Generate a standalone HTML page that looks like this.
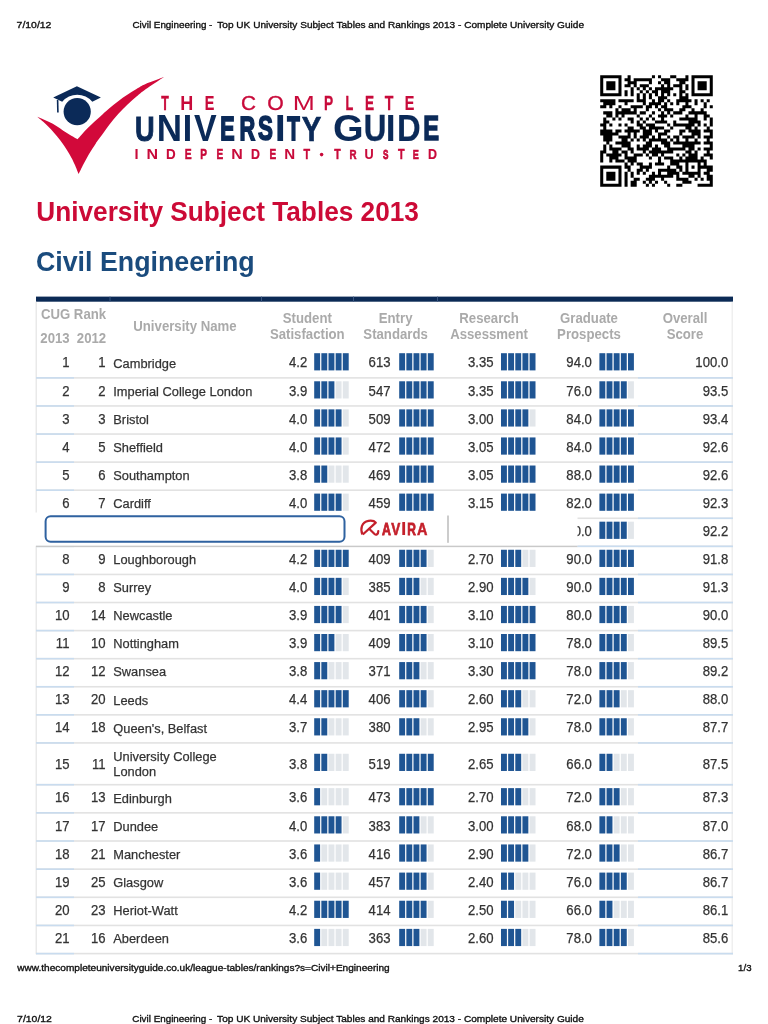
<!DOCTYPE html>
<html><head><meta charset="utf-8"><title>Civil Engineering - Top UK University Subject Tables and Rankings 2013 - Complete University Guide</title>
<style>
html,body{margin:0;padding:0;background:#fff;}
body{width:768px;height:1024px;overflow:hidden;position:relative;}
#wrap{position:absolute;left:0;top:0;width:768px;height:1024px;}
svg{position:absolute;left:0;top:0;font-family:"Liberation Sans", Arial, sans-serif;will-change:transform;}
</style></head><body>
<div id="wrap"><svg width="768" height="1024" viewBox="0 0 768 1024">
<text x="16.6" y="27.5" font-size="9.5" fill="#111" stroke="#111" stroke-width="0.35" lengthAdjust="spacingAndGlyphs" textLength="34.8" text-anchor="start" xml:space="preserve">7/10/12</text>
<text x="132.5" y="27.5" font-size="9.5" fill="#111" stroke="#111" stroke-width="0.35" lengthAdjust="spacingAndGlyphs" textLength="79.9" text-anchor="start" xml:space="preserve">Civil Engineering -</text>
<text x="217.3" y="27.5" font-size="9.5" fill="#111" stroke="#111" stroke-width="0.35" lengthAdjust="spacingAndGlyphs" textLength="366.7" text-anchor="start" xml:space="preserve">Top UK University Subject Tables and Rankings 2013 - Complete University Guide</text>
<text x="17.2" y="970.6" font-size="9.5" fill="#111" stroke="#111" stroke-width="0.35" lengthAdjust="spacingAndGlyphs" textLength="372.5" text-anchor="start" xml:space="preserve">www.thecompleteuniversityguide.co.uk/league-tables/rankings?s=Civil+Engineering</text>
<text x="738.1" y="970.6" font-size="9.5" fill="#111" stroke="#111" stroke-width="0.35" lengthAdjust="spacingAndGlyphs" textLength="13.4" text-anchor="start" xml:space="preserve">1/3</text>
<text x="17.1" y="1021.6" font-size="9.5" fill="#111" stroke="#111" stroke-width="0.35" lengthAdjust="spacingAndGlyphs" textLength="34.8" text-anchor="start" xml:space="preserve">7/10/12</text>
<text x="132.3" y="1021.6" font-size="9.5" fill="#111" stroke="#111" stroke-width="0.35" lengthAdjust="spacingAndGlyphs" textLength="79.9" text-anchor="start" xml:space="preserve">Civil Engineering -</text>
<text x="217.1" y="1021.6" font-size="9.5" fill="#111" stroke="#111" stroke-width="0.35" lengthAdjust="spacingAndGlyphs" textLength="366.7" text-anchor="start" xml:space="preserve">Top UK University Subject Tables and Rankings 2013 - Complete University Guide</text>
<path d="M77.6,139.3 C79.33,137.38 84.27,131.57 88.00,127.80 C91.73,124.03 96.48,119.92 100.00,116.70 C103.52,113.48 106.07,111.08 109.10,108.50 C112.13,105.92 115.17,103.48 118.20,101.20 C121.23,98.92 124.25,96.85 127.30,94.80 C130.35,92.75 133.45,90.72 136.50,88.90 C139.55,87.08 141.02,85.88 145.60,83.90 C150.18,81.92 160.93,78.15 164.00,77.00 C160.93,79.05 150.18,86.03 145.60,89.30 C141.02,92.57 139.55,94.02 136.50,96.60 C133.45,99.18 130.35,101.92 127.30,104.80 C124.25,107.68 121.23,110.55 118.20,113.90 C115.17,117.25 112.13,120.95 109.10,124.90 C106.07,128.85 102.22,134.52 100.00,137.60 C97.78,140.68 97.67,140.60 95.80,143.40 C93.92,146.20 90.83,150.88 88.75,154.40 C86.67,157.92 84.99,161.23 83.30,164.50 C81.61,167.77 79.38,172.42 78.60,174.00 C77.95,172.42 76.27,167.87 74.70,164.50 C73.13,161.13 71.65,157.88 69.20,153.80 C66.75,149.72 63.50,144.57 60.00,140.00 C56.50,135.43 51.98,130.28 48.20,126.40 C44.42,122.52 39.12,118.32 37.30,116.70 C39.88,117.87 47.93,121.02 52.80,123.70 C57.67,126.38 62.37,130.20 66.50,132.80 C70.63,135.40 75.75,138.22 77.60,139.30Z" fill="#d2093a"/>
<circle cx="77.2" cy="111.7" r="13.6" fill="#0b2a58"/>
<path d="M76.9,86.3 L100.9,97.5 L92.3,101.8 A19.5,19.5 0 0 0 62.2,101.8 L53.2,97.5 Z" fill="#0b2a58"/>
<path d="M57.6,100 L57.9,112.5" stroke="#0b2a58" stroke-width="1.6" fill="none"/>
<text transform="translate(161.22,109.54) scale(0.617,1)" font-size="20.03" font-weight="bold" fill="#c80a3a" stroke="#c80a3a" stroke-width="0.52" stroke-linejoin="miter">T</text>
<text transform="translate(180.19,109.80) scale(0.867,1)" font-size="20.79" font-weight="bold" fill="#c80a3a">H</text>
<text transform="translate(204.75,109.69) scale(0.703,1)" font-size="20.45" font-weight="bold" fill="#c80a3a" stroke="#c80a3a" stroke-width="0.23" stroke-linejoin="miter">E</text>
<text transform="translate(240.93,109.61) scale(1.024,1)" font-size="20.24" font-weight="normal" fill="#c80a3a" stroke="#c80a3a" stroke-width="0.37" stroke-linejoin="miter">C</text>
<text transform="translate(267.26,109.64) scale(1.044,1)" font-size="20.31" font-weight="normal" fill="#c80a3a" stroke="#c80a3a" stroke-width="0.33" stroke-linejoin="miter">O</text>
<text transform="translate(292.73,109.80) scale(1.273,1)" font-size="20.79" font-weight="normal" fill="#c80a3a">M</text>
<text transform="translate(324.04,109.64) scale(0.677,1)" font-size="20.32" font-weight="bold" fill="#c80a3a" stroke="#c80a3a" stroke-width="0.32" stroke-linejoin="miter">P</text>
<text transform="translate(345.58,109.57) scale(0.633,1)" font-size="20.11" font-weight="bold" fill="#c80a3a" stroke="#c80a3a" stroke-width="0.47" stroke-linejoin="miter">L</text>
<text transform="translate(364.95,109.63) scale(0.673,1)" font-size="20.30" font-weight="bold" fill="#c80a3a" stroke="#c80a3a" stroke-width="0.33" stroke-linejoin="miter">E</text>
<text transform="translate(384.77,109.67) scale(0.694,1)" font-size="20.41" font-weight="bold" fill="#c80a3a" stroke="#c80a3a" stroke-width="0.26" stroke-linejoin="miter">T</text>
<text transform="translate(404.65,109.69) scale(0.703,1)" font-size="20.45" font-weight="bold" fill="#c80a3a" stroke="#c80a3a" stroke-width="0.23" stroke-linejoin="miter">E</text>
<text transform="translate(135.07,140.50) scale(0.771,1)" font-size="35.18" font-weight="bold" fill="#0b2a58" stroke="#0b2a58" stroke-width="0.99" stroke-linejoin="miter">U</text>
<text transform="translate(156.66,141.00) scale(0.957,1)" font-size="36.63" font-weight="bold" fill="#0b2a58">N</text>
<text transform="translate(182.83,141.00) scale(0.928,1)" font-size="36.63" font-weight="bold" fill="#0b2a58">I</text>
<text transform="translate(193.97,141.00) scale(0.928,1)" font-size="36.62" font-weight="bold" fill="#0b2a58">V</text>
<text transform="translate(220.25,140.10) scale(0.634,1)" font-size="34.02" font-weight="bold" fill="#0b2a58" stroke="#0b2a58" stroke-width="1.79" stroke-linejoin="miter">E</text>
<text transform="translate(239.42,140.12) scale(0.640,1)" font-size="34.07" font-weight="bold" fill="#0b2a58" stroke="#0b2a58" stroke-width="1.76" stroke-linejoin="miter">R</text>
<text transform="translate(257.89,140.16) scale(0.655,1)" font-size="34.20" font-weight="bold" fill="#0b2a58" stroke="#0b2a58" stroke-width="1.67" stroke-linejoin="miter">S</text>
<text transform="translate(274.85,141.00) scale(1.080,1)" font-size="36.63" font-weight="bold" fill="#0b2a58">I</text>
<text transform="translate(287.15,140.02) scale(0.605,1)" font-size="33.79" font-weight="bold" fill="#0b2a58" stroke="#0b2a58" stroke-width="1.95" stroke-linejoin="miter">T</text>
<text transform="translate(301.83,140.67) scale(0.824,1)" font-size="35.66" font-weight="bold" fill="#0b2a58" stroke="#0b2a58" stroke-width="0.67" stroke-linejoin="miter">Y</text>
<text transform="translate(333.08,141.00) scale(1.076,1)" font-size="36.63" font-weight="bold" fill="#0b2a58">G</text>
<text transform="translate(363.82,140.80) scale(0.868,1)" font-size="36.05" font-weight="bold" fill="#0b2a58" stroke="#0b2a58" stroke-width="0.39" stroke-linejoin="miter">U</text>
<text transform="translate(385.73,141.00) scale(0.967,1)" font-size="36.63" font-weight="bold" fill="#0b2a58">I</text>
<text transform="translate(396.99,140.91) scale(0.902,1)" font-size="36.37" font-weight="bold" fill="#0b2a58" stroke="#0b2a58" stroke-width="0.17" stroke-linejoin="miter">D</text>
<text transform="translate(423.25,140.26) scale(0.689,1)" font-size="34.48" font-weight="bold" fill="#0b2a58" stroke="#0b2a58" stroke-width="1.48" stroke-linejoin="miter">E</text>
<text transform="translate(134.62,159.40) scale(1.003,1)" font-size="14.54" font-weight="bold" fill="#c80a3a">I</text>
<text transform="translate(146.53,159.40) scale(1.100,1)" font-size="14.54" font-weight="bold" fill="#c80a3a">N</text>
<text transform="translate(166.04,159.37) scale(0.930,1)" font-size="14.44" font-weight="bold" fill="#c80a3a" stroke="#c80a3a" stroke-width="0.07" stroke-linejoin="miter">D</text>
<text transform="translate(184.67,159.14) scale(0.748,1)" font-size="13.79" font-weight="bold" fill="#c80a3a" stroke="#c80a3a" stroke-width="0.52" stroke-linejoin="miter">E</text>
<text transform="translate(200.35,159.13) scale(0.733,1)" font-size="13.74" font-weight="bold" fill="#c80a3a" stroke="#c80a3a" stroke-width="0.55" stroke-linejoin="miter">P</text>
<text transform="translate(216.40,159.13) scale(0.733,1)" font-size="13.74" font-weight="bold" fill="#c80a3a" stroke="#c80a3a" stroke-width="0.55" stroke-linejoin="miter">E</text>
<text transform="translate(231.33,159.40) scale(1.100,1)" font-size="14.54" font-weight="bold" fill="#c80a3a">N</text>
<text transform="translate(250.98,159.29) scale(0.869,1)" font-size="14.21" font-weight="bold" fill="#c80a3a" stroke="#c80a3a" stroke-width="0.22" stroke-linejoin="miter">D</text>
<text transform="translate(269.50,159.13) scale(0.733,1)" font-size="13.74" font-weight="bold" fill="#c80a3a" stroke="#c80a3a" stroke-width="0.55" stroke-linejoin="miter">E</text>
<text transform="translate(284.19,159.40) scale(1.042,1)" font-size="14.54" font-weight="bold" fill="#c80a3a">N</text>
<text transform="translate(303.50,159.18) scale(0.777,1)" font-size="13.89" font-weight="bold" fill="#c80a3a" stroke="#c80a3a" stroke-width="0.45" stroke-linejoin="miter">T</text>
<text transform="translate(334.32,159.16) scale(0.763,1)" font-size="13.84" font-weight="bold" fill="#c80a3a" stroke="#c80a3a" stroke-width="0.48" stroke-linejoin="miter">T</text>
<text transform="translate(349.44,159.10) scale(0.715,1)" font-size="13.68" font-weight="bold" fill="#c80a3a" stroke="#c80a3a" stroke-width="0.59" stroke-linejoin="miter">R</text>
<text transform="translate(364.52,159.31) scale(0.888,1)" font-size="14.28" font-weight="bold" fill="#c80a3a" stroke="#c80a3a" stroke-width="0.17" stroke-linejoin="miter">U</text>
<text transform="translate(383.08,158.99) scale(0.610,1)" font-size="13.33" font-weight="bold" fill="#c80a3a" stroke="#c80a3a" stroke-width="0.83" stroke-linejoin="miter">S</text>
<text transform="translate(398.10,159.18) scale(0.777,1)" font-size="13.89" font-weight="bold" fill="#c80a3a" stroke="#c80a3a" stroke-width="0.45" stroke-linejoin="miter">T</text>
<text transform="translate(412.83,159.06) scale(0.673,1)" font-size="13.54" font-weight="bold" fill="#c80a3a" stroke="#c80a3a" stroke-width="0.69" stroke-linejoin="miter">E</text>
<text transform="translate(428.02,159.30) scale(0.876,1)" font-size="14.24" font-weight="bold" fill="#c80a3a" stroke="#c80a3a" stroke-width="0.20" stroke-linejoin="miter">D</text>
<circle cx="321.6" cy="154.6" r="1.8" fill="#c80a3a"/>
<path d="M600.20,75.20H621.50V78.21H600.20zM627.59,75.20H630.63V78.21H627.59zM651.93,75.20H654.97V78.21H651.93zM658.02,75.20H661.06V78.21H658.02zM670.19,75.20H676.28V78.21H670.19zM685.40,75.20H688.45V78.21H685.40zM691.49,75.20H712.79V78.21H691.49zM600.20,78.21H603.24V81.23H600.20zM618.46,78.21H621.50V81.23H618.46zM624.54,78.21H630.63V81.23H624.54zM633.67,78.21H651.93V81.23H633.67zM661.06,78.21H670.19V81.23H661.06zM676.28,78.21H688.45V81.23H676.28zM691.49,78.21H694.53V81.23H691.49zM709.75,78.21H712.79V81.23H709.75zM600.20,81.23H603.24V84.24H600.20zM606.29,81.23H615.42V84.24H606.29zM618.46,81.23H621.50V84.24H618.46zM627.59,81.23H636.72V84.24H627.59zM648.89,81.23H651.93V84.24H648.89zM658.02,81.23H661.06V84.24H658.02zM664.10,81.23H670.19V84.24H664.10zM679.32,81.23H685.40V84.24H679.32zM691.49,81.23H694.53V84.24H691.49zM697.58,81.23H706.71V84.24H697.58zM709.75,81.23H712.79V84.24H709.75zM600.20,84.24H603.24V87.26H600.20zM606.29,84.24H615.42V87.26H606.29zM618.46,84.24H621.50V87.26H618.46zM624.54,84.24H630.63V87.26H624.54zM633.67,84.24H636.72V87.26H633.67zM639.76,84.24H648.89V87.26H639.76zM661.06,84.24H664.10V87.26H661.06zM667.15,84.24H670.19V87.26H667.15zM673.23,84.24H682.36V87.26H673.23zM685.40,84.24H688.45V87.26H685.40zM691.49,84.24H694.53V87.26H691.49zM697.58,84.24H706.71V87.26H697.58zM709.75,84.24H712.79V87.26H709.75zM600.20,87.26H603.24V90.27H600.20zM606.29,87.26H615.42V90.27H606.29zM618.46,87.26H621.50V90.27H618.46zM630.63,87.26H633.67V90.27H630.63zM636.72,87.26H639.76V90.27H636.72zM642.80,87.26H645.85V90.27H642.80zM648.89,87.26H651.93V90.27H648.89zM654.97,87.26H673.23V90.27H654.97zM679.32,87.26H682.36V90.27H679.32zM685.40,87.26H688.45V90.27H685.40zM691.49,87.26H694.53V90.27H691.49zM697.58,87.26H706.71V90.27H697.58zM709.75,87.26H712.79V90.27H709.75zM600.20,90.27H603.24V93.28H600.20zM618.46,90.27H621.50V93.28H618.46zM624.54,90.27H627.59V93.28H624.54zM630.63,90.27H633.67V93.28H630.63zM639.76,90.27H642.80V93.28H639.76zM645.85,90.27H648.89V93.28H645.85zM651.93,90.27H658.02V93.28H651.93zM661.06,90.27H670.19V93.28H661.06zM679.32,90.27H685.40V93.28H679.32zM691.49,90.27H694.53V93.28H691.49zM709.75,90.27H712.79V93.28H709.75zM600.20,93.28H621.50V96.30H600.20zM624.54,93.28H627.59V96.30H624.54zM630.63,93.28H633.67V96.30H630.63zM636.72,93.28H639.76V96.30H636.72zM642.80,93.28H645.85V96.30H642.80zM648.89,93.28H651.93V96.30H648.89zM654.97,93.28H658.02V96.30H654.97zM661.06,93.28H664.10V96.30H661.06zM667.15,93.28H670.19V96.30H667.15zM673.23,93.28H676.28V96.30H673.23zM679.32,93.28H682.36V96.30H679.32zM685.40,93.28H688.45V96.30H685.40zM691.49,93.28H712.79V96.30H691.49zM636.72,96.30H639.76V99.31H636.72zM642.80,96.30H645.85V99.31H642.80zM648.89,96.30H651.93V99.31H648.89zM658.02,96.30H667.15V99.31H658.02zM679.32,96.30H688.45V99.31H679.32zM600.20,99.31H615.42V102.33H600.20zM618.46,99.31H633.67V102.33H618.46zM636.72,99.31H645.85V102.33H636.72zM651.93,99.31H654.97V102.33H651.93zM658.02,99.31H664.10V102.33H658.02zM667.15,99.31H670.19V102.33H667.15zM676.28,99.31H691.49V102.33H676.28zM694.53,99.31H697.58V102.33H694.53zM700.62,99.31H703.66V102.33H700.62zM706.71,99.31H709.75V102.33H706.71zM603.24,102.33H615.42V105.34H603.24zM624.54,102.33H627.59V105.34H624.54zM642.80,102.33H645.85V105.34H642.80zM648.89,102.33H661.06V105.34H648.89zM664.10,102.33H667.15V105.34H664.10zM670.19,102.33H673.23V105.34H670.19zM676.28,102.33H679.32V105.34H676.28zM685.40,102.33H688.45V105.34H685.40zM694.53,102.33H697.58V105.34H694.53zM703.66,102.33H706.71V105.34H703.66zM600.20,105.34H606.29V108.35H600.20zM609.33,105.34H612.37V108.35H609.33zM618.46,105.34H621.50V108.35H618.46zM630.63,105.34H642.80V108.35H630.63zM645.85,105.34H651.93V108.35H645.85zM654.97,105.34H658.02V108.35H654.97zM661.06,105.34H667.15V108.35H661.06zM682.36,105.34H691.49V108.35H682.36zM703.66,105.34H706.71V108.35H703.66zM709.75,105.34H712.79V108.35H709.75zM615.42,108.35H618.46V111.37H615.42zM621.50,108.35H630.63V111.37H621.50zM633.67,108.35H636.72V111.37H633.67zM645.85,108.35H648.89V111.37H645.85zM658.02,108.35H661.06V111.37H658.02zM664.10,108.35H673.23V111.37H664.10zM679.32,108.35H685.40V111.37H679.32zM691.49,108.35H694.53V111.37H691.49zM700.62,108.35H703.66V111.37H700.62zM603.24,111.37H612.37V114.38H603.24zM615.42,111.37H636.72V114.38H615.42zM639.76,111.37H645.85V114.38H639.76zM651.93,111.37H654.97V114.38H651.93zM661.06,111.37H664.10V114.38H661.06zM667.15,111.37H670.19V114.38H667.15zM673.23,111.37H682.36V114.38H673.23zM688.45,111.37H706.71V114.38H688.45zM606.29,114.38H612.37V117.40H606.29zM615.42,114.38H618.46V117.40H615.42zM621.50,114.38H624.54V117.40H621.50zM636.72,114.38H639.76V117.40H636.72zM648.89,114.38H651.93V117.40H648.89zM658.02,114.38H667.15V117.40H658.02zM670.19,114.38H673.23V117.40H670.19zM685.40,114.38H688.45V117.40H685.40zM694.53,114.38H697.58V117.40H694.53zM703.66,114.38H709.75V117.40H703.66zM603.24,117.40H606.29V120.41H603.24zM612.37,117.40H615.42V120.41H612.37zM618.46,117.40H621.50V120.41H618.46zM627.59,117.40H633.67V120.41H627.59zM639.76,117.40H642.80V120.41H639.76zM645.85,117.40H648.89V120.41H645.85zM651.93,117.40H654.97V120.41H651.93zM661.06,117.40H664.10V120.41H661.06zM679.32,117.40H697.58V120.41H679.32zM703.66,117.40H706.71V120.41H703.66zM709.75,117.40H712.79V120.41H709.75zM603.24,120.41H609.33V123.42H603.24zM630.63,120.41H633.67V123.42H630.63zM636.72,120.41H639.76V123.42H636.72zM642.80,120.41H645.85V123.42H642.80zM654.97,120.41H667.15V123.42H654.97zM673.23,120.41H676.28V123.42H673.23zM688.45,120.41H700.62V123.42H688.45zM709.75,120.41H712.79V123.42H709.75zM600.20,123.42H606.29V126.44H600.20zM609.33,123.42H612.37V126.44H609.33zM618.46,123.42H621.50V126.44H618.46zM624.54,123.42H627.59V126.44H624.54zM636.72,123.42H642.80V126.44H636.72zM645.85,123.42H654.97V126.44H645.85zM667.15,123.42H670.19V126.44H667.15zM673.23,123.42H694.53V126.44H673.23zM697.58,123.42H700.62V126.44H697.58zM703.66,123.42H706.71V126.44H703.66zM709.75,123.42H712.79V126.44H709.75zM603.24,126.44H606.29V129.45H603.24zM627.59,126.44H633.67V129.45H627.59zM639.76,126.44H645.85V129.45H639.76zM648.89,126.44H664.10V129.45H648.89zM670.19,126.44H673.23V129.45H670.19zM685.40,126.44H691.49V129.45H685.40zM694.53,126.44H697.58V129.45H694.53zM706.71,126.44H709.75V129.45H706.71zM600.20,129.45H612.37V132.47H600.20zM615.42,129.45H621.50V132.47H615.42zM624.54,129.45H639.76V132.47H624.54zM642.80,129.45H651.93V132.47H642.80zM654.97,129.45H658.02V132.47H654.97zM664.10,129.45H670.19V132.47H664.10zM679.32,129.45H685.40V132.47H679.32zM688.45,129.45H700.62V132.47H688.45zM703.66,129.45H712.79V132.47H703.66zM600.20,132.47H618.46V135.48H600.20zM627.59,132.47H630.63V135.48H627.59zM633.67,132.47H636.72V135.48H633.67zM642.80,132.47H651.93V135.48H642.80zM658.02,132.47H667.15V135.48H658.02zM679.32,132.47H682.36V135.48H679.32zM691.49,132.47H700.62V135.48H691.49zM709.75,132.47H712.79V135.48H709.75zM603.24,135.48H612.37V138.49H603.24zM618.46,135.48H630.63V138.49H618.46zM633.67,135.48H636.72V138.49H633.67zM639.76,135.48H648.89V138.49H639.76zM651.93,135.48H654.97V138.49H651.93zM658.02,135.48H661.06V138.49H658.02zM667.15,135.48H670.19V138.49H667.15zM673.23,135.48H679.32V138.49H673.23zM682.36,135.48H694.53V138.49H682.36zM697.58,135.48H700.62V138.49H697.58zM703.66,135.48H712.79V138.49H703.66zM603.24,138.49H612.37V141.51H603.24zM621.50,138.49H627.59V141.51H621.50zM630.63,138.49H633.67V141.51H630.63zM636.72,138.49H639.76V141.51H636.72zM642.80,138.49H645.85V141.51H642.80zM648.89,138.49H667.15V141.51H648.89zM670.19,138.49H673.23V141.51H670.19zM676.28,138.49H679.32V141.51H676.28zM685.40,138.49H688.45V141.51H685.40zM694.53,138.49H697.58V141.51H694.53zM706.71,138.49H709.75V141.51H706.71zM606.29,141.51H609.33V144.52H606.29zM615.42,141.51H630.63V144.52H615.42zM645.85,141.51H651.93V144.52H645.85zM661.06,141.51H670.19V144.52H661.06zM673.23,141.51H700.62V144.52H673.23zM703.66,141.51H712.79V144.52H703.66zM603.24,144.52H606.29V147.54H603.24zM609.33,144.52H612.37V147.54H609.33zM621.50,144.52H630.63V147.54H621.50zM636.72,144.52H639.76V147.54H636.72zM642.80,144.52H651.93V147.54H642.80zM654.97,144.52H658.02V147.54H654.97zM664.10,144.52H670.19V147.54H664.10zM682.36,144.52H694.53V147.54H682.36zM709.75,144.52H712.79V147.54H709.75zM603.24,147.54H606.29V150.55H603.24zM609.33,147.54H621.50V150.55H609.33zM627.59,147.54H633.67V150.55H627.59zM636.72,147.54H648.89V150.55H636.72zM651.93,147.54H661.06V150.55H651.93zM667.15,147.54H685.40V150.55H667.15zM688.45,147.54H694.53V150.55H688.45zM697.58,147.54H700.62V150.55H697.58zM703.66,147.54H712.79V150.55H703.66zM600.20,150.55H606.29V153.56H600.20zM612.37,150.55H618.46V153.56H612.37zM621.50,150.55H627.59V153.56H621.50zM630.63,150.55H633.67V153.56H630.63zM642.80,150.55H645.85V153.56H642.80zM648.89,150.55H673.23V153.56H648.89zM685.40,150.55H691.49V153.56H685.40zM694.53,150.55H697.58V153.56H694.53zM706.71,150.55H709.75V153.56H706.71zM600.20,153.56H603.24V156.58H600.20zM606.29,153.56H621.50V156.58H606.29zM624.54,153.56H627.59V156.58H624.54zM633.67,153.56H642.80V156.58H633.67zM645.85,153.56H648.89V156.58H645.85zM651.93,153.56H658.02V156.58H651.93zM661.06,153.56H664.10V156.58H661.06zM676.28,153.56H679.32V156.58H676.28zM682.36,153.56H685.40V156.58H682.36zM688.45,153.56H697.58V156.58H688.45zM703.66,153.56H712.79V156.58H703.66zM600.20,156.58H603.24V159.59H600.20zM609.33,156.58H618.46V159.59H609.33zM624.54,156.58H636.72V159.59H624.54zM648.89,156.58H651.93V159.59H648.89zM658.02,156.58H661.06V159.59H658.02zM664.10,156.58H673.23V159.59H664.10zM679.32,156.58H682.36V159.59H679.32zM685.40,156.58H697.58V159.59H685.40zM700.62,156.58H703.66V159.59H700.62zM709.75,156.58H712.79V159.59H709.75zM600.20,159.59H603.24V162.61H600.20zM609.33,159.59H612.37V162.61H609.33zM615.42,159.59H624.54V162.61H615.42zM627.59,159.59H636.72V162.61H627.59zM658.02,159.59H661.06V162.61H658.02zM670.19,159.59H706.71V162.61H670.19zM624.54,162.61H627.59V165.62H624.54zM630.63,162.61H633.67V165.62H630.63zM636.72,162.61H642.80V165.62H636.72zM648.89,162.61H651.93V165.62H648.89zM654.97,162.61H664.10V165.62H654.97zM670.19,162.61H679.32V165.62H670.19zM685.40,162.61H688.45V165.62H685.40zM697.58,162.61H700.62V165.62H697.58zM703.66,162.61H706.71V165.62H703.66zM600.20,165.62H621.50V168.63H600.20zM624.54,165.62H630.63V168.63H624.54zM639.76,165.62H651.93V168.63H639.76zM667.15,165.62H670.19V168.63H667.15zM676.28,165.62H682.36V168.63H676.28zM685.40,165.62H688.45V168.63H685.40zM691.49,165.62H694.53V168.63H691.49zM697.58,165.62H712.79V168.63H697.58zM600.20,168.63H603.24V171.65H600.20zM618.46,168.63H621.50V171.65H618.46zM627.59,168.63H630.63V171.65H627.59zM636.72,168.63H642.80V171.65H636.72zM645.85,168.63H648.89V171.65H645.85zM658.02,168.63H676.28V171.65H658.02zM679.32,168.63H682.36V171.65H679.32zM685.40,168.63H688.45V171.65H685.40zM697.58,168.63H700.62V171.65H697.58zM706.71,168.63H712.79V171.65H706.71zM600.20,171.65H603.24V174.66H600.20zM606.29,171.65H615.42V174.66H606.29zM618.46,171.65H621.50V174.66H618.46zM624.54,171.65H627.59V174.66H624.54zM630.63,171.65H633.67V174.66H630.63zM636.72,171.65H639.76V174.66H636.72zM642.80,171.65H645.85V174.66H642.80zM651.93,171.65H654.97V174.66H651.93zM658.02,171.65H661.06V174.66H658.02zM667.15,171.65H679.32V174.66H667.15zM682.36,171.65H700.62V174.66H682.36zM703.66,171.65H709.75V174.66H703.66zM600.20,174.66H603.24V177.68H600.20zM606.29,174.66H615.42V177.68H606.29zM618.46,174.66H621.50V177.68H618.46zM624.54,174.66H627.59V177.68H624.54zM630.63,174.66H633.67V177.68H630.63zM648.89,174.66H673.23V177.68H648.89zM676.28,174.66H679.32V177.68H676.28zM688.45,174.66H694.53V177.68H688.45zM697.58,174.66H700.62V177.68H697.58zM706.71,174.66H712.79V177.68H706.71zM600.20,177.68H603.24V180.69H600.20zM606.29,177.68H615.42V180.69H606.29zM618.46,177.68H621.50V180.69H618.46zM624.54,177.68H627.59V180.69H624.54zM633.67,177.68H639.76V180.69H633.67zM645.85,177.68H654.97V180.69H645.85zM661.06,177.68H664.10V180.69H661.06zM676.28,177.68H688.45V180.69H676.28zM694.53,177.68H697.58V180.69H694.53zM700.62,177.68H703.66V180.69H700.62zM706.71,177.68H712.79V180.69H706.71zM600.20,180.69H603.24V183.70H600.20zM618.46,180.69H621.50V183.70H618.46zM624.54,180.69H627.59V183.70H624.54zM630.63,180.69H636.72V183.70H630.63zM642.80,180.69H645.85V183.70H642.80zM648.89,180.69H651.93V183.70H648.89zM654.97,180.69H658.02V183.70H654.97zM664.10,180.69H667.15V183.70H664.10zM682.36,180.69H691.49V183.70H682.36zM709.75,180.69H712.79V183.70H709.75zM600.20,183.70H621.50V186.72H600.20zM624.54,183.70H627.59V186.72H624.54zM630.63,183.70H636.72V186.72H630.63zM645.85,183.70H648.89V186.72H645.85zM651.93,183.70H654.97V186.72H651.93zM667.15,183.70H670.19V186.72H667.15zM676.28,183.70H682.36V186.72H676.28zM697.58,183.70H712.79V186.72H697.58z" fill="#000"/>
<text x="36.3" y="220.6" font-size="26.8" fill="#cc0a36" font-weight="bold" text-anchor="start" textLength="382.60" lengthAdjust="spacingAndGlyphs" >University Subject Tables 2013</text>
<text x="35.9" y="270.6" font-size="27.0" fill="#1a4b7d" font-weight="bold" text-anchor="start" textLength="218.80" lengthAdjust="spacingAndGlyphs" >Civil Engineering</text>
<rect x="36" y="296.6" width="697" height="5.1" fill="#0b2a55"/>
<rect x="109.5" y="296.6" width="1" height="5.1" fill="#3a5680"/>
<rect x="261" y="296.6" width="1" height="5.1" fill="#3a5680"/>
<rect x="353" y="296.6" width="1" height="5.1" fill="#3a5680"/>
<rect x="437" y="296.6" width="1" height="5.1" fill="#3a5680"/>
<text x="73.5" y="318.6" font-size="14.2" fill="#aaaaaa" font-weight="bold" text-anchor="middle" textLength="65.25" lengthAdjust="spacingAndGlyphs" >CUG Rank</text>
<text x="55" y="342.6" font-size="14.2" fill="#aaaaaa" font-weight="bold" text-anchor="middle" textLength="29.35" lengthAdjust="spacingAndGlyphs" >2013</text>
<text x="91.5" y="342.6" font-size="14.2" fill="#aaaaaa" font-weight="bold" text-anchor="middle" textLength="29.35" lengthAdjust="spacingAndGlyphs" >2012</text>
<text x="185" y="330.5" font-size="14.2" fill="#aaaaaa" font-weight="bold" text-anchor="middle" textLength="103.41" lengthAdjust="spacingAndGlyphs" >University Name</text>
<text x="307.3" y="322.6" font-size="14.2" fill="#aaaaaa" font-weight="bold" text-anchor="middle" textLength="49.11" lengthAdjust="spacingAndGlyphs" >Student</text>
<text x="307.3" y="338.7" font-size="14.2" fill="#aaaaaa" font-weight="bold" text-anchor="middle" textLength="74.79" lengthAdjust="spacingAndGlyphs" >Satisfaction</text>
<text x="395.6" y="322.6" font-size="14.2" fill="#aaaaaa" font-weight="bold" text-anchor="middle" textLength="33.73" lengthAdjust="spacingAndGlyphs" >Entry</text>
<text x="395.6" y="338.7" font-size="14.2" fill="#aaaaaa" font-weight="bold" text-anchor="middle" textLength="64.53" lengthAdjust="spacingAndGlyphs" >Standards</text>
<text x="489" y="322.6" font-size="14.2" fill="#aaaaaa" font-weight="bold" text-anchor="middle" textLength="59.42" lengthAdjust="spacingAndGlyphs" >Research</text>
<text x="489" y="338.7" font-size="14.2" fill="#aaaaaa" font-weight="bold" text-anchor="middle" textLength="77.75" lengthAdjust="spacingAndGlyphs" >Assessment</text>
<text x="589" y="322.6" font-size="14.2" fill="#aaaaaa" font-weight="bold" text-anchor="middle" textLength="57.93" lengthAdjust="spacingAndGlyphs" >Graduate</text>
<text x="589" y="338.7" font-size="14.2" fill="#aaaaaa" font-weight="bold" text-anchor="middle" textLength="63.80" lengthAdjust="spacingAndGlyphs" >Prospects</text>
<text x="685" y="322.6" font-size="14.2" fill="#aaaaaa" font-weight="bold" text-anchor="middle" textLength="44.75" lengthAdjust="spacingAndGlyphs" >Overall</text>
<text x="685" y="338.7" font-size="14.2" fill="#aaaaaa" font-weight="bold" text-anchor="middle" textLength="36.67" lengthAdjust="spacingAndGlyphs" >Score</text>
<rect x="35.6" y="301.8" width="1.2" height="652.4" fill="#e4e4e4"/>
<rect x="731.6" y="301.8" width="1.2" height="652.4" fill="#ececec"/>
<rect x="36" y="377.08" width="697" height="1.6" fill="#e2e2e2"/>
<rect x="36" y="377.08" width="38" height="1.6" fill="#c9dcef"/>
<rect x="638" y="377.08" width="95" height="1.6" fill="#c9dcef"/>
<text x="69.5" y="367.45" font-size="14.2" fill="#333" font-weight="normal" text-anchor="end" textLength="7.30" lengthAdjust="spacingAndGlyphs" stroke="#333" stroke-width="0.25">1</text>
<text x="105.6" y="367.45" font-size="14.2" fill="#333" font-weight="normal" text-anchor="end" textLength="7.30" lengthAdjust="spacingAndGlyphs" stroke="#333" stroke-width="0.25">1</text>
<text x="113.3" y="367.60" font-size="13.7" fill="#333" font-weight="normal" text-anchor="start" textLength="62.76" lengthAdjust="spacingAndGlyphs" stroke="#333" stroke-width="0.25">Cambridge</text>
<text x="307.2" y="367.45" font-size="14.2" fill="#333" font-weight="normal" text-anchor="end" textLength="18.25" lengthAdjust="spacingAndGlyphs" stroke="#333" stroke-width="0.25">4.2</text>
<rect x="314.20" y="353.20" width="5.9" height="17.2" fill="#1f5593"/>
<rect x="321.35" y="353.20" width="5.9" height="17.2" fill="#1f5593"/>
<rect x="328.50" y="353.20" width="5.9" height="17.2" fill="#1f5593"/>
<rect x="335.65" y="353.20" width="5.9" height="17.2" fill="#1f5593"/>
<rect x="342.80" y="353.20" width="5.9" height="17.2" fill="#1f5593"/>
<text x="390.5" y="367.45" font-size="14.2" fill="#333" font-weight="normal" text-anchor="end" textLength="21.91" lengthAdjust="spacingAndGlyphs" stroke="#333" stroke-width="0.25">613</text>
<rect x="399.20" y="353.20" width="5.9" height="17.2" fill="#1f5593"/>
<rect x="406.35" y="353.20" width="5.9" height="17.2" fill="#1f5593"/>
<rect x="413.50" y="353.20" width="5.9" height="17.2" fill="#1f5593"/>
<rect x="420.65" y="353.20" width="5.9" height="17.2" fill="#1f5593"/>
<rect x="427.80" y="353.20" width="5.9" height="17.2" fill="#1f5593"/>
<text x="493.5" y="367.45" font-size="14.2" fill="#333" font-weight="normal" text-anchor="end" textLength="25.55" lengthAdjust="spacingAndGlyphs" stroke="#333" stroke-width="0.25">3.35</text>
<rect x="501.00" y="353.20" width="5.9" height="17.2" fill="#1f5593"/>
<rect x="508.15" y="353.20" width="5.9" height="17.2" fill="#1f5593"/>
<rect x="515.30" y="353.20" width="5.9" height="17.2" fill="#1f5593"/>
<rect x="522.45" y="353.20" width="5.9" height="17.2" fill="#1f5593"/>
<rect x="529.60" y="353.20" width="5.9" height="17.2" fill="#1f5593"/>
<text x="591.9" y="367.45" font-size="14.2" fill="#333" font-weight="normal" text-anchor="end" textLength="25.55" lengthAdjust="spacingAndGlyphs" stroke="#333" stroke-width="0.25">94.0</text>
<rect x="599.40" y="353.20" width="5.9" height="17.2" fill="#1f5593"/>
<rect x="606.55" y="353.20" width="5.9" height="17.2" fill="#1f5593"/>
<rect x="613.70" y="353.20" width="5.9" height="17.2" fill="#1f5593"/>
<rect x="620.85" y="353.20" width="5.9" height="17.2" fill="#1f5593"/>
<rect x="628.00" y="353.20" width="5.9" height="17.2" fill="#1f5593"/>
<text x="728.2" y="367.45" font-size="14.2" fill="#333" font-weight="normal" text-anchor="end" textLength="32.86" lengthAdjust="spacingAndGlyphs" stroke="#333" stroke-width="0.25">100.0</text>
<rect x="36" y="405.16" width="697" height="1.6" fill="#e2e2e2"/>
<rect x="36" y="405.16" width="38" height="1.6" fill="#c9dcef"/>
<rect x="638" y="405.16" width="95" height="1.6" fill="#c9dcef"/>
<text x="69.5" y="395.53" font-size="14.2" fill="#333" font-weight="normal" text-anchor="end" textLength="7.30" lengthAdjust="spacingAndGlyphs" stroke="#333" stroke-width="0.25">2</text>
<text x="105.6" y="395.53" font-size="14.2" fill="#333" font-weight="normal" text-anchor="end" textLength="7.30" lengthAdjust="spacingAndGlyphs" stroke="#333" stroke-width="0.25">2</text>
<text x="113.3" y="395.68" font-size="13.7" fill="#333" font-weight="normal" text-anchor="start" textLength="139.09" lengthAdjust="spacingAndGlyphs" stroke="#333" stroke-width="0.25">Imperial College London</text>
<text x="307.2" y="395.53" font-size="14.2" fill="#333" font-weight="normal" text-anchor="end" textLength="18.25" lengthAdjust="spacingAndGlyphs" stroke="#333" stroke-width="0.25">3.9</text>
<rect x="314.20" y="381.28" width="5.9" height="17.2" fill="#1f5593"/>
<rect x="321.35" y="381.28" width="5.9" height="17.2" fill="#1f5593"/>
<rect x="328.50" y="381.28" width="5.9" height="17.2" fill="#1f5593"/>
<rect x="335.65" y="381.28" width="5.9" height="17.2" fill="#e2e6ea"/>
<rect x="342.80" y="381.28" width="5.9" height="17.2" fill="#e2e6ea"/>
<text x="390.5" y="395.53" font-size="14.2" fill="#333" font-weight="normal" text-anchor="end" textLength="21.91" lengthAdjust="spacingAndGlyphs" stroke="#333" stroke-width="0.25">547</text>
<rect x="399.20" y="381.28" width="5.9" height="17.2" fill="#1f5593"/>
<rect x="406.35" y="381.28" width="5.9" height="17.2" fill="#1f5593"/>
<rect x="413.50" y="381.28" width="5.9" height="17.2" fill="#1f5593"/>
<rect x="420.65" y="381.28" width="5.9" height="17.2" fill="#1f5593"/>
<rect x="427.80" y="381.28" width="5.9" height="17.2" fill="#1f5593"/>
<text x="493.5" y="395.53" font-size="14.2" fill="#333" font-weight="normal" text-anchor="end" textLength="25.55" lengthAdjust="spacingAndGlyphs" stroke="#333" stroke-width="0.25">3.35</text>
<rect x="501.00" y="381.28" width="5.9" height="17.2" fill="#1f5593"/>
<rect x="508.15" y="381.28" width="5.9" height="17.2" fill="#1f5593"/>
<rect x="515.30" y="381.28" width="5.9" height="17.2" fill="#1f5593"/>
<rect x="522.45" y="381.28" width="5.9" height="17.2" fill="#1f5593"/>
<rect x="529.60" y="381.28" width="5.9" height="17.2" fill="#1f5593"/>
<text x="591.9" y="395.53" font-size="14.2" fill="#333" font-weight="normal" text-anchor="end" textLength="25.55" lengthAdjust="spacingAndGlyphs" stroke="#333" stroke-width="0.25">76.0</text>
<rect x="599.40" y="381.28" width="5.9" height="17.2" fill="#1f5593"/>
<rect x="606.55" y="381.28" width="5.9" height="17.2" fill="#1f5593"/>
<rect x="613.70" y="381.28" width="5.9" height="17.2" fill="#1f5593"/>
<rect x="620.85" y="381.28" width="5.9" height="17.2" fill="#1f5593"/>
<rect x="628.00" y="381.28" width="5.9" height="17.2" fill="#e2e6ea"/>
<text x="728.2" y="395.53" font-size="14.2" fill="#333" font-weight="normal" text-anchor="end" textLength="25.55" lengthAdjust="spacingAndGlyphs" stroke="#333" stroke-width="0.25">93.5</text>
<rect x="36" y="433.24" width="697" height="1.6" fill="#e2e2e2"/>
<rect x="36" y="433.24" width="38" height="1.6" fill="#c9dcef"/>
<rect x="638" y="433.24" width="95" height="1.6" fill="#c9dcef"/>
<text x="69.5" y="423.61" font-size="14.2" fill="#333" font-weight="normal" text-anchor="end" textLength="7.30" lengthAdjust="spacingAndGlyphs" stroke="#333" stroke-width="0.25">3</text>
<text x="105.6" y="423.61" font-size="14.2" fill="#333" font-weight="normal" text-anchor="end" textLength="7.30" lengthAdjust="spacingAndGlyphs" stroke="#333" stroke-width="0.25">3</text>
<text x="113.3" y="423.76" font-size="13.7" fill="#333" font-weight="normal" text-anchor="start" textLength="35.65" lengthAdjust="spacingAndGlyphs" stroke="#333" stroke-width="0.25">Bristol</text>
<text x="307.2" y="423.61" font-size="14.2" fill="#333" font-weight="normal" text-anchor="end" textLength="18.25" lengthAdjust="spacingAndGlyphs" stroke="#333" stroke-width="0.25">4.0</text>
<rect x="314.20" y="409.36" width="5.9" height="17.2" fill="#1f5593"/>
<rect x="321.35" y="409.36" width="5.9" height="17.2" fill="#1f5593"/>
<rect x="328.50" y="409.36" width="5.9" height="17.2" fill="#1f5593"/>
<rect x="335.65" y="409.36" width="5.9" height="17.2" fill="#1f5593"/>
<rect x="342.80" y="409.36" width="5.9" height="17.2" fill="#e2e6ea"/>
<text x="390.5" y="423.61" font-size="14.2" fill="#333" font-weight="normal" text-anchor="end" textLength="21.91" lengthAdjust="spacingAndGlyphs" stroke="#333" stroke-width="0.25">509</text>
<rect x="399.20" y="409.36" width="5.9" height="17.2" fill="#1f5593"/>
<rect x="406.35" y="409.36" width="5.9" height="17.2" fill="#1f5593"/>
<rect x="413.50" y="409.36" width="5.9" height="17.2" fill="#1f5593"/>
<rect x="420.65" y="409.36" width="5.9" height="17.2" fill="#1f5593"/>
<rect x="427.80" y="409.36" width="5.9" height="17.2" fill="#1f5593"/>
<text x="493.5" y="423.61" font-size="14.2" fill="#333" font-weight="normal" text-anchor="end" textLength="25.55" lengthAdjust="spacingAndGlyphs" stroke="#333" stroke-width="0.25">3.00</text>
<rect x="501.00" y="409.36" width="5.9" height="17.2" fill="#1f5593"/>
<rect x="508.15" y="409.36" width="5.9" height="17.2" fill="#1f5593"/>
<rect x="515.30" y="409.36" width="5.9" height="17.2" fill="#1f5593"/>
<rect x="522.45" y="409.36" width="5.9" height="17.2" fill="#1f5593"/>
<rect x="529.60" y="409.36" width="5.9" height="17.2" fill="#e2e6ea"/>
<text x="591.9" y="423.61" font-size="14.2" fill="#333" font-weight="normal" text-anchor="end" textLength="25.55" lengthAdjust="spacingAndGlyphs" stroke="#333" stroke-width="0.25">84.0</text>
<rect x="599.40" y="409.36" width="5.9" height="17.2" fill="#1f5593"/>
<rect x="606.55" y="409.36" width="5.9" height="17.2" fill="#1f5593"/>
<rect x="613.70" y="409.36" width="5.9" height="17.2" fill="#1f5593"/>
<rect x="620.85" y="409.36" width="5.9" height="17.2" fill="#1f5593"/>
<rect x="628.00" y="409.36" width="5.9" height="17.2" fill="#1f5593"/>
<text x="728.2" y="423.61" font-size="14.2" fill="#333" font-weight="normal" text-anchor="end" textLength="25.55" lengthAdjust="spacingAndGlyphs" stroke="#333" stroke-width="0.25">93.4</text>
<rect x="36" y="461.32" width="697" height="1.6" fill="#e2e2e2"/>
<rect x="36" y="461.32" width="38" height="1.6" fill="#c9dcef"/>
<rect x="638" y="461.32" width="95" height="1.6" fill="#c9dcef"/>
<text x="69.5" y="451.69" font-size="14.2" fill="#333" font-weight="normal" text-anchor="end" textLength="7.30" lengthAdjust="spacingAndGlyphs" stroke="#333" stroke-width="0.25">4</text>
<text x="105.6" y="451.69" font-size="14.2" fill="#333" font-weight="normal" text-anchor="end" textLength="7.30" lengthAdjust="spacingAndGlyphs" stroke="#333" stroke-width="0.25">5</text>
<text x="113.3" y="451.84" font-size="13.7" fill="#333" font-weight="normal" text-anchor="start" textLength="49.70" lengthAdjust="spacingAndGlyphs" stroke="#333" stroke-width="0.25">Sheffield</text>
<text x="307.2" y="451.69" font-size="14.2" fill="#333" font-weight="normal" text-anchor="end" textLength="18.25" lengthAdjust="spacingAndGlyphs" stroke="#333" stroke-width="0.25">4.0</text>
<rect x="314.20" y="437.44" width="5.9" height="17.2" fill="#1f5593"/>
<rect x="321.35" y="437.44" width="5.9" height="17.2" fill="#1f5593"/>
<rect x="328.50" y="437.44" width="5.9" height="17.2" fill="#1f5593"/>
<rect x="335.65" y="437.44" width="5.9" height="17.2" fill="#1f5593"/>
<rect x="342.80" y="437.44" width="5.9" height="17.2" fill="#e2e6ea"/>
<text x="390.5" y="451.69" font-size="14.2" fill="#333" font-weight="normal" text-anchor="end" textLength="21.91" lengthAdjust="spacingAndGlyphs" stroke="#333" stroke-width="0.25">472</text>
<rect x="399.20" y="437.44" width="5.9" height="17.2" fill="#1f5593"/>
<rect x="406.35" y="437.44" width="5.9" height="17.2" fill="#1f5593"/>
<rect x="413.50" y="437.44" width="5.9" height="17.2" fill="#1f5593"/>
<rect x="420.65" y="437.44" width="5.9" height="17.2" fill="#1f5593"/>
<rect x="427.80" y="437.44" width="5.9" height="17.2" fill="#1f5593"/>
<text x="493.5" y="451.69" font-size="14.2" fill="#333" font-weight="normal" text-anchor="end" textLength="25.55" lengthAdjust="spacingAndGlyphs" stroke="#333" stroke-width="0.25">3.05</text>
<rect x="501.00" y="437.44" width="5.9" height="17.2" fill="#1f5593"/>
<rect x="508.15" y="437.44" width="5.9" height="17.2" fill="#1f5593"/>
<rect x="515.30" y="437.44" width="5.9" height="17.2" fill="#1f5593"/>
<rect x="522.45" y="437.44" width="5.9" height="17.2" fill="#1f5593"/>
<rect x="529.60" y="437.44" width="5.9" height="17.2" fill="#1f5593"/>
<text x="591.9" y="451.69" font-size="14.2" fill="#333" font-weight="normal" text-anchor="end" textLength="25.55" lengthAdjust="spacingAndGlyphs" stroke="#333" stroke-width="0.25">84.0</text>
<rect x="599.40" y="437.44" width="5.9" height="17.2" fill="#1f5593"/>
<rect x="606.55" y="437.44" width="5.9" height="17.2" fill="#1f5593"/>
<rect x="613.70" y="437.44" width="5.9" height="17.2" fill="#1f5593"/>
<rect x="620.85" y="437.44" width="5.9" height="17.2" fill="#1f5593"/>
<rect x="628.00" y="437.44" width="5.9" height="17.2" fill="#1f5593"/>
<text x="728.2" y="451.69" font-size="14.2" fill="#333" font-weight="normal" text-anchor="end" textLength="25.55" lengthAdjust="spacingAndGlyphs" stroke="#333" stroke-width="0.25">92.6</text>
<rect x="36" y="489.40" width="697" height="1.6" fill="#e2e2e2"/>
<rect x="36" y="489.40" width="38" height="1.6" fill="#c9dcef"/>
<rect x="638" y="489.40" width="95" height="1.6" fill="#c9dcef"/>
<text x="69.5" y="479.77" font-size="14.2" fill="#333" font-weight="normal" text-anchor="end" textLength="7.30" lengthAdjust="spacingAndGlyphs" stroke="#333" stroke-width="0.25">5</text>
<text x="105.6" y="479.77" font-size="14.2" fill="#333" font-weight="normal" text-anchor="end" textLength="7.30" lengthAdjust="spacingAndGlyphs" stroke="#333" stroke-width="0.25">6</text>
<text x="113.3" y="479.92" font-size="13.7" fill="#333" font-weight="normal" text-anchor="start" textLength="76.33" lengthAdjust="spacingAndGlyphs" stroke="#333" stroke-width="0.25">Southampton</text>
<text x="307.2" y="479.77" font-size="14.2" fill="#333" font-weight="normal" text-anchor="end" textLength="18.25" lengthAdjust="spacingAndGlyphs" stroke="#333" stroke-width="0.25">3.8</text>
<rect x="314.20" y="465.52" width="5.9" height="17.2" fill="#1f5593"/>
<rect x="321.35" y="465.52" width="5.9" height="17.2" fill="#1f5593"/>
<rect x="328.50" y="465.52" width="5.9" height="17.2" fill="#e2e6ea"/>
<rect x="335.65" y="465.52" width="5.9" height="17.2" fill="#e2e6ea"/>
<rect x="342.80" y="465.52" width="5.9" height="17.2" fill="#e2e6ea"/>
<text x="390.5" y="479.77" font-size="14.2" fill="#333" font-weight="normal" text-anchor="end" textLength="21.91" lengthAdjust="spacingAndGlyphs" stroke="#333" stroke-width="0.25">469</text>
<rect x="399.20" y="465.52" width="5.9" height="17.2" fill="#1f5593"/>
<rect x="406.35" y="465.52" width="5.9" height="17.2" fill="#1f5593"/>
<rect x="413.50" y="465.52" width="5.9" height="17.2" fill="#1f5593"/>
<rect x="420.65" y="465.52" width="5.9" height="17.2" fill="#1f5593"/>
<rect x="427.80" y="465.52" width="5.9" height="17.2" fill="#1f5593"/>
<text x="493.5" y="479.77" font-size="14.2" fill="#333" font-weight="normal" text-anchor="end" textLength="25.55" lengthAdjust="spacingAndGlyphs" stroke="#333" stroke-width="0.25">3.05</text>
<rect x="501.00" y="465.52" width="5.9" height="17.2" fill="#1f5593"/>
<rect x="508.15" y="465.52" width="5.9" height="17.2" fill="#1f5593"/>
<rect x="515.30" y="465.52" width="5.9" height="17.2" fill="#1f5593"/>
<rect x="522.45" y="465.52" width="5.9" height="17.2" fill="#1f5593"/>
<rect x="529.60" y="465.52" width="5.9" height="17.2" fill="#1f5593"/>
<text x="591.9" y="479.77" font-size="14.2" fill="#333" font-weight="normal" text-anchor="end" textLength="25.55" lengthAdjust="spacingAndGlyphs" stroke="#333" stroke-width="0.25">88.0</text>
<rect x="599.40" y="465.52" width="5.9" height="17.2" fill="#1f5593"/>
<rect x="606.55" y="465.52" width="5.9" height="17.2" fill="#1f5593"/>
<rect x="613.70" y="465.52" width="5.9" height="17.2" fill="#1f5593"/>
<rect x="620.85" y="465.52" width="5.9" height="17.2" fill="#1f5593"/>
<rect x="628.00" y="465.52" width="5.9" height="17.2" fill="#1f5593"/>
<text x="728.2" y="479.77" font-size="14.2" fill="#333" font-weight="normal" text-anchor="end" textLength="25.55" lengthAdjust="spacingAndGlyphs" stroke="#333" stroke-width="0.25">92.6</text>
<rect x="36" y="517.48" width="697" height="1.6" fill="#e2e2e2"/>
<rect x="36" y="517.48" width="38" height="1.6" fill="#c9dcef"/>
<rect x="638" y="517.48" width="95" height="1.6" fill="#c9dcef"/>
<text x="69.5" y="507.85" font-size="14.2" fill="#333" font-weight="normal" text-anchor="end" textLength="7.30" lengthAdjust="spacingAndGlyphs" stroke="#333" stroke-width="0.25">6</text>
<text x="105.6" y="507.85" font-size="14.2" fill="#333" font-weight="normal" text-anchor="end" textLength="7.30" lengthAdjust="spacingAndGlyphs" stroke="#333" stroke-width="0.25">7</text>
<text x="113.3" y="508.00" font-size="13.7" fill="#333" font-weight="normal" text-anchor="start" textLength="37.56" lengthAdjust="spacingAndGlyphs" stroke="#333" stroke-width="0.25">Cardiff</text>
<text x="307.2" y="507.85" font-size="14.2" fill="#333" font-weight="normal" text-anchor="end" textLength="18.25" lengthAdjust="spacingAndGlyphs" stroke="#333" stroke-width="0.25">4.0</text>
<rect x="314.20" y="493.60" width="5.9" height="17.2" fill="#1f5593"/>
<rect x="321.35" y="493.60" width="5.9" height="17.2" fill="#1f5593"/>
<rect x="328.50" y="493.60" width="5.9" height="17.2" fill="#1f5593"/>
<rect x="335.65" y="493.60" width="5.9" height="17.2" fill="#1f5593"/>
<rect x="342.80" y="493.60" width="5.9" height="17.2" fill="#e2e6ea"/>
<text x="390.5" y="507.85" font-size="14.2" fill="#333" font-weight="normal" text-anchor="end" textLength="21.91" lengthAdjust="spacingAndGlyphs" stroke="#333" stroke-width="0.25">459</text>
<rect x="399.20" y="493.60" width="5.9" height="17.2" fill="#1f5593"/>
<rect x="406.35" y="493.60" width="5.9" height="17.2" fill="#1f5593"/>
<rect x="413.50" y="493.60" width="5.9" height="17.2" fill="#1f5593"/>
<rect x="420.65" y="493.60" width="5.9" height="17.2" fill="#1f5593"/>
<rect x="427.80" y="493.60" width="5.9" height="17.2" fill="#1f5593"/>
<text x="493.5" y="507.85" font-size="14.2" fill="#333" font-weight="normal" text-anchor="end" textLength="25.55" lengthAdjust="spacingAndGlyphs" stroke="#333" stroke-width="0.25">3.15</text>
<rect x="501.00" y="493.60" width="5.9" height="17.2" fill="#1f5593"/>
<rect x="508.15" y="493.60" width="5.9" height="17.2" fill="#1f5593"/>
<rect x="515.30" y="493.60" width="5.9" height="17.2" fill="#1f5593"/>
<rect x="522.45" y="493.60" width="5.9" height="17.2" fill="#1f5593"/>
<rect x="529.60" y="493.60" width="5.9" height="17.2" fill="#1f5593"/>
<text x="591.9" y="507.85" font-size="14.2" fill="#333" font-weight="normal" text-anchor="end" textLength="25.55" lengthAdjust="spacingAndGlyphs" stroke="#333" stroke-width="0.25">82.0</text>
<rect x="599.40" y="493.60" width="5.9" height="17.2" fill="#1f5593"/>
<rect x="606.55" y="493.60" width="5.9" height="17.2" fill="#1f5593"/>
<rect x="613.70" y="493.60" width="5.9" height="17.2" fill="#1f5593"/>
<rect x="620.85" y="493.60" width="5.9" height="17.2" fill="#1f5593"/>
<rect x="628.00" y="493.60" width="5.9" height="17.2" fill="#1f5593"/>
<text x="728.2" y="507.85" font-size="14.2" fill="#333" font-weight="normal" text-anchor="end" textLength="25.55" lengthAdjust="spacingAndGlyphs" stroke="#333" stroke-width="0.25">92.3</text>
<rect x="36" y="545.56" width="697" height="1.6" fill="#e2e2e2"/>
<rect x="36" y="545.56" width="38" height="1.6" fill="#c9dcef"/>
<rect x="638" y="545.56" width="95" height="1.6" fill="#c9dcef"/>
<text x="591.9" y="535.93" font-size="14.2" fill="#333" font-weight="normal" text-anchor="end" textLength="25.55" lengthAdjust="spacingAndGlyphs" stroke="#333" stroke-width="0.25">80.0</text>
<rect x="599.40" y="521.68" width="5.9" height="17.2" fill="#1f5593"/>
<rect x="606.55" y="521.68" width="5.9" height="17.2" fill="#1f5593"/>
<rect x="613.70" y="521.68" width="5.9" height="17.2" fill="#1f5593"/>
<rect x="620.85" y="521.68" width="5.9" height="17.2" fill="#1f5593"/>
<rect x="628.00" y="521.68" width="5.9" height="17.2" fill="#e2e6ea"/>
<text x="728.2" y="535.93" font-size="14.2" fill="#333" font-weight="normal" text-anchor="end" textLength="25.55" lengthAdjust="spacingAndGlyphs" stroke="#333" stroke-width="0.25">92.2</text>
<rect x="36" y="573.64" width="697" height="1.6" fill="#e2e2e2"/>
<rect x="36" y="573.64" width="38" height="1.6" fill="#c9dcef"/>
<rect x="638" y="573.64" width="95" height="1.6" fill="#c9dcef"/>
<text x="69.5" y="564.01" font-size="14.2" fill="#333" font-weight="normal" text-anchor="end" textLength="7.30" lengthAdjust="spacingAndGlyphs" stroke="#333" stroke-width="0.25">8</text>
<text x="105.6" y="564.01" font-size="14.2" fill="#333" font-weight="normal" text-anchor="end" textLength="7.30" lengthAdjust="spacingAndGlyphs" stroke="#333" stroke-width="0.25">9</text>
<text x="113.3" y="564.16" font-size="13.7" fill="#333" font-weight="normal" text-anchor="start" textLength="82.77" lengthAdjust="spacingAndGlyphs" stroke="#333" stroke-width="0.25">Loughborough</text>
<text x="307.2" y="564.01" font-size="14.2" fill="#333" font-weight="normal" text-anchor="end" textLength="18.25" lengthAdjust="spacingAndGlyphs" stroke="#333" stroke-width="0.25">4.2</text>
<rect x="314.20" y="549.76" width="5.9" height="17.2" fill="#1f5593"/>
<rect x="321.35" y="549.76" width="5.9" height="17.2" fill="#1f5593"/>
<rect x="328.50" y="549.76" width="5.9" height="17.2" fill="#1f5593"/>
<rect x="335.65" y="549.76" width="5.9" height="17.2" fill="#1f5593"/>
<rect x="342.80" y="549.76" width="5.9" height="17.2" fill="#1f5593"/>
<text x="390.5" y="564.01" font-size="14.2" fill="#333" font-weight="normal" text-anchor="end" textLength="21.91" lengthAdjust="spacingAndGlyphs" stroke="#333" stroke-width="0.25">409</text>
<rect x="399.20" y="549.76" width="5.9" height="17.2" fill="#1f5593"/>
<rect x="406.35" y="549.76" width="5.9" height="17.2" fill="#1f5593"/>
<rect x="413.50" y="549.76" width="5.9" height="17.2" fill="#1f5593"/>
<rect x="420.65" y="549.76" width="5.9" height="17.2" fill="#1f5593"/>
<rect x="427.80" y="549.76" width="5.9" height="17.2" fill="#e2e6ea"/>
<text x="493.5" y="564.01" font-size="14.2" fill="#333" font-weight="normal" text-anchor="end" textLength="25.55" lengthAdjust="spacingAndGlyphs" stroke="#333" stroke-width="0.25">2.70</text>
<rect x="501.00" y="549.76" width="5.9" height="17.2" fill="#1f5593"/>
<rect x="508.15" y="549.76" width="5.9" height="17.2" fill="#1f5593"/>
<rect x="515.30" y="549.76" width="5.9" height="17.2" fill="#1f5593"/>
<rect x="522.45" y="549.76" width="5.9" height="17.2" fill="#e2e6ea"/>
<rect x="529.60" y="549.76" width="5.9" height="17.2" fill="#e2e6ea"/>
<text x="591.9" y="564.01" font-size="14.2" fill="#333" font-weight="normal" text-anchor="end" textLength="25.55" lengthAdjust="spacingAndGlyphs" stroke="#333" stroke-width="0.25">90.0</text>
<rect x="599.40" y="549.76" width="5.9" height="17.2" fill="#1f5593"/>
<rect x="606.55" y="549.76" width="5.9" height="17.2" fill="#1f5593"/>
<rect x="613.70" y="549.76" width="5.9" height="17.2" fill="#1f5593"/>
<rect x="620.85" y="549.76" width="5.9" height="17.2" fill="#1f5593"/>
<rect x="628.00" y="549.76" width="5.9" height="17.2" fill="#1f5593"/>
<text x="728.2" y="564.01" font-size="14.2" fill="#333" font-weight="normal" text-anchor="end" textLength="25.55" lengthAdjust="spacingAndGlyphs" stroke="#333" stroke-width="0.25">91.8</text>
<rect x="36" y="601.72" width="697" height="1.6" fill="#e2e2e2"/>
<rect x="36" y="601.72" width="38" height="1.6" fill="#c9dcef"/>
<rect x="638" y="601.72" width="95" height="1.6" fill="#c9dcef"/>
<text x="69.5" y="592.09" font-size="14.2" fill="#333" font-weight="normal" text-anchor="end" textLength="7.30" lengthAdjust="spacingAndGlyphs" stroke="#333" stroke-width="0.25">9</text>
<text x="105.6" y="592.09" font-size="14.2" fill="#333" font-weight="normal" text-anchor="end" textLength="7.30" lengthAdjust="spacingAndGlyphs" stroke="#333" stroke-width="0.25">8</text>
<text x="113.3" y="592.24" font-size="13.7" fill="#333" font-weight="normal" text-anchor="start" textLength="37.79" lengthAdjust="spacingAndGlyphs" stroke="#333" stroke-width="0.25">Surrey</text>
<text x="307.2" y="592.09" font-size="14.2" fill="#333" font-weight="normal" text-anchor="end" textLength="18.25" lengthAdjust="spacingAndGlyphs" stroke="#333" stroke-width="0.25">4.0</text>
<rect x="314.20" y="577.84" width="5.9" height="17.2" fill="#1f5593"/>
<rect x="321.35" y="577.84" width="5.9" height="17.2" fill="#1f5593"/>
<rect x="328.50" y="577.84" width="5.9" height="17.2" fill="#1f5593"/>
<rect x="335.65" y="577.84" width="5.9" height="17.2" fill="#1f5593"/>
<rect x="342.80" y="577.84" width="5.9" height="17.2" fill="#e2e6ea"/>
<text x="390.5" y="592.09" font-size="14.2" fill="#333" font-weight="normal" text-anchor="end" textLength="21.91" lengthAdjust="spacingAndGlyphs" stroke="#333" stroke-width="0.25">385</text>
<rect x="399.20" y="577.84" width="5.9" height="17.2" fill="#1f5593"/>
<rect x="406.35" y="577.84" width="5.9" height="17.2" fill="#1f5593"/>
<rect x="413.50" y="577.84" width="5.9" height="17.2" fill="#1f5593"/>
<rect x="420.65" y="577.84" width="5.9" height="17.2" fill="#e2e6ea"/>
<rect x="427.80" y="577.84" width="5.9" height="17.2" fill="#e2e6ea"/>
<text x="493.5" y="592.09" font-size="14.2" fill="#333" font-weight="normal" text-anchor="end" textLength="25.55" lengthAdjust="spacingAndGlyphs" stroke="#333" stroke-width="0.25">2.90</text>
<rect x="501.00" y="577.84" width="5.9" height="17.2" fill="#1f5593"/>
<rect x="508.15" y="577.84" width="5.9" height="17.2" fill="#1f5593"/>
<rect x="515.30" y="577.84" width="5.9" height="17.2" fill="#1f5593"/>
<rect x="522.45" y="577.84" width="5.9" height="17.2" fill="#1f5593"/>
<rect x="529.60" y="577.84" width="5.9" height="17.2" fill="#e2e6ea"/>
<text x="591.9" y="592.09" font-size="14.2" fill="#333" font-weight="normal" text-anchor="end" textLength="25.55" lengthAdjust="spacingAndGlyphs" stroke="#333" stroke-width="0.25">90.0</text>
<rect x="599.40" y="577.84" width="5.9" height="17.2" fill="#1f5593"/>
<rect x="606.55" y="577.84" width="5.9" height="17.2" fill="#1f5593"/>
<rect x="613.70" y="577.84" width="5.9" height="17.2" fill="#1f5593"/>
<rect x="620.85" y="577.84" width="5.9" height="17.2" fill="#1f5593"/>
<rect x="628.00" y="577.84" width="5.9" height="17.2" fill="#1f5593"/>
<text x="728.2" y="592.09" font-size="14.2" fill="#333" font-weight="normal" text-anchor="end" textLength="25.55" lengthAdjust="spacingAndGlyphs" stroke="#333" stroke-width="0.25">91.3</text>
<rect x="36" y="629.80" width="697" height="1.6" fill="#e2e2e2"/>
<rect x="36" y="629.80" width="38" height="1.6" fill="#c9dcef"/>
<rect x="638" y="629.80" width="95" height="1.6" fill="#c9dcef"/>
<text x="69.5" y="620.17" font-size="14.2" fill="#333" font-weight="normal" text-anchor="end" textLength="14.60" lengthAdjust="spacingAndGlyphs" stroke="#333" stroke-width="0.25">10</text>
<text x="105.6" y="620.17" font-size="14.2" fill="#333" font-weight="normal" text-anchor="end" textLength="14.60" lengthAdjust="spacingAndGlyphs" stroke="#333" stroke-width="0.25">14</text>
<text x="113.3" y="620.32" font-size="13.7" fill="#333" font-weight="normal" text-anchor="start" textLength="59.19" lengthAdjust="spacingAndGlyphs" stroke="#333" stroke-width="0.25">Newcastle</text>
<text x="307.2" y="620.17" font-size="14.2" fill="#333" font-weight="normal" text-anchor="end" textLength="18.25" lengthAdjust="spacingAndGlyphs" stroke="#333" stroke-width="0.25">3.9</text>
<rect x="314.20" y="605.92" width="5.9" height="17.2" fill="#1f5593"/>
<rect x="321.35" y="605.92" width="5.9" height="17.2" fill="#1f5593"/>
<rect x="328.50" y="605.92" width="5.9" height="17.2" fill="#1f5593"/>
<rect x="335.65" y="605.92" width="5.9" height="17.2" fill="#1f5593"/>
<rect x="342.80" y="605.92" width="5.9" height="17.2" fill="#e2e6ea"/>
<text x="390.5" y="620.17" font-size="14.2" fill="#333" font-weight="normal" text-anchor="end" textLength="21.91" lengthAdjust="spacingAndGlyphs" stroke="#333" stroke-width="0.25">401</text>
<rect x="399.20" y="605.92" width="5.9" height="17.2" fill="#1f5593"/>
<rect x="406.35" y="605.92" width="5.9" height="17.2" fill="#1f5593"/>
<rect x="413.50" y="605.92" width="5.9" height="17.2" fill="#1f5593"/>
<rect x="420.65" y="605.92" width="5.9" height="17.2" fill="#1f5593"/>
<rect x="427.80" y="605.92" width="5.9" height="17.2" fill="#e2e6ea"/>
<text x="493.5" y="620.17" font-size="14.2" fill="#333" font-weight="normal" text-anchor="end" textLength="25.55" lengthAdjust="spacingAndGlyphs" stroke="#333" stroke-width="0.25">3.10</text>
<rect x="501.00" y="605.92" width="5.9" height="17.2" fill="#1f5593"/>
<rect x="508.15" y="605.92" width="5.9" height="17.2" fill="#1f5593"/>
<rect x="515.30" y="605.92" width="5.9" height="17.2" fill="#1f5593"/>
<rect x="522.45" y="605.92" width="5.9" height="17.2" fill="#1f5593"/>
<rect x="529.60" y="605.92" width="5.9" height="17.2" fill="#1f5593"/>
<text x="591.9" y="620.17" font-size="14.2" fill="#333" font-weight="normal" text-anchor="end" textLength="25.55" lengthAdjust="spacingAndGlyphs" stroke="#333" stroke-width="0.25">80.0</text>
<rect x="599.40" y="605.92" width="5.9" height="17.2" fill="#1f5593"/>
<rect x="606.55" y="605.92" width="5.9" height="17.2" fill="#1f5593"/>
<rect x="613.70" y="605.92" width="5.9" height="17.2" fill="#1f5593"/>
<rect x="620.85" y="605.92" width="5.9" height="17.2" fill="#1f5593"/>
<rect x="628.00" y="605.92" width="5.9" height="17.2" fill="#e2e6ea"/>
<text x="728.2" y="620.17" font-size="14.2" fill="#333" font-weight="normal" text-anchor="end" textLength="25.55" lengthAdjust="spacingAndGlyphs" stroke="#333" stroke-width="0.25">90.0</text>
<rect x="36" y="657.88" width="697" height="1.6" fill="#e2e2e2"/>
<rect x="36" y="657.88" width="38" height="1.6" fill="#c9dcef"/>
<rect x="638" y="657.88" width="95" height="1.6" fill="#c9dcef"/>
<text x="69.5" y="648.25" font-size="14.2" fill="#333" font-weight="normal" text-anchor="end" textLength="13.63" lengthAdjust="spacingAndGlyphs" stroke="#333" stroke-width="0.25">11</text>
<text x="105.6" y="648.25" font-size="14.2" fill="#333" font-weight="normal" text-anchor="end" textLength="14.60" lengthAdjust="spacingAndGlyphs" stroke="#333" stroke-width="0.25">10</text>
<text x="113.3" y="648.40" font-size="13.7" fill="#333" font-weight="normal" text-anchor="start" textLength="65.62" lengthAdjust="spacingAndGlyphs" stroke="#333" stroke-width="0.25">Nottingham</text>
<text x="307.2" y="648.25" font-size="14.2" fill="#333" font-weight="normal" text-anchor="end" textLength="18.25" lengthAdjust="spacingAndGlyphs" stroke="#333" stroke-width="0.25">3.9</text>
<rect x="314.20" y="634.00" width="5.9" height="17.2" fill="#1f5593"/>
<rect x="321.35" y="634.00" width="5.9" height="17.2" fill="#1f5593"/>
<rect x="328.50" y="634.00" width="5.9" height="17.2" fill="#1f5593"/>
<rect x="335.65" y="634.00" width="5.9" height="17.2" fill="#e2e6ea"/>
<rect x="342.80" y="634.00" width="5.9" height="17.2" fill="#e2e6ea"/>
<text x="390.5" y="648.25" font-size="14.2" fill="#333" font-weight="normal" text-anchor="end" textLength="21.91" lengthAdjust="spacingAndGlyphs" stroke="#333" stroke-width="0.25">409</text>
<rect x="399.20" y="634.00" width="5.9" height="17.2" fill="#1f5593"/>
<rect x="406.35" y="634.00" width="5.9" height="17.2" fill="#1f5593"/>
<rect x="413.50" y="634.00" width="5.9" height="17.2" fill="#1f5593"/>
<rect x="420.65" y="634.00" width="5.9" height="17.2" fill="#1f5593"/>
<rect x="427.80" y="634.00" width="5.9" height="17.2" fill="#e2e6ea"/>
<text x="493.5" y="648.25" font-size="14.2" fill="#333" font-weight="normal" text-anchor="end" textLength="25.55" lengthAdjust="spacingAndGlyphs" stroke="#333" stroke-width="0.25">3.10</text>
<rect x="501.00" y="634.00" width="5.9" height="17.2" fill="#1f5593"/>
<rect x="508.15" y="634.00" width="5.9" height="17.2" fill="#1f5593"/>
<rect x="515.30" y="634.00" width="5.9" height="17.2" fill="#1f5593"/>
<rect x="522.45" y="634.00" width="5.9" height="17.2" fill="#1f5593"/>
<rect x="529.60" y="634.00" width="5.9" height="17.2" fill="#1f5593"/>
<text x="591.9" y="648.25" font-size="14.2" fill="#333" font-weight="normal" text-anchor="end" textLength="25.55" lengthAdjust="spacingAndGlyphs" stroke="#333" stroke-width="0.25">78.0</text>
<rect x="599.40" y="634.00" width="5.9" height="17.2" fill="#1f5593"/>
<rect x="606.55" y="634.00" width="5.9" height="17.2" fill="#1f5593"/>
<rect x="613.70" y="634.00" width="5.9" height="17.2" fill="#1f5593"/>
<rect x="620.85" y="634.00" width="5.9" height="17.2" fill="#1f5593"/>
<rect x="628.00" y="634.00" width="5.9" height="17.2" fill="#e2e6ea"/>
<text x="728.2" y="648.25" font-size="14.2" fill="#333" font-weight="normal" text-anchor="end" textLength="25.55" lengthAdjust="spacingAndGlyphs" stroke="#333" stroke-width="0.25">89.5</text>
<rect x="36" y="685.96" width="697" height="1.6" fill="#e2e2e2"/>
<rect x="36" y="685.96" width="38" height="1.6" fill="#c9dcef"/>
<rect x="638" y="685.96" width="95" height="1.6" fill="#c9dcef"/>
<text x="69.5" y="676.33" font-size="14.2" fill="#333" font-weight="normal" text-anchor="end" textLength="14.60" lengthAdjust="spacingAndGlyphs" stroke="#333" stroke-width="0.25">12</text>
<text x="105.6" y="676.33" font-size="14.2" fill="#333" font-weight="normal" text-anchor="end" textLength="14.60" lengthAdjust="spacingAndGlyphs" stroke="#333" stroke-width="0.25">12</text>
<text x="113.3" y="676.48" font-size="13.7" fill="#333" font-weight="normal" text-anchor="start" textLength="52.78" lengthAdjust="spacingAndGlyphs" stroke="#333" stroke-width="0.25">Swansea</text>
<text x="307.2" y="676.33" font-size="14.2" fill="#333" font-weight="normal" text-anchor="end" textLength="18.25" lengthAdjust="spacingAndGlyphs" stroke="#333" stroke-width="0.25">3.8</text>
<rect x="314.20" y="662.08" width="5.9" height="17.2" fill="#1f5593"/>
<rect x="321.35" y="662.08" width="5.9" height="17.2" fill="#1f5593"/>
<rect x="328.50" y="662.08" width="5.9" height="17.2" fill="#e2e6ea"/>
<rect x="335.65" y="662.08" width="5.9" height="17.2" fill="#e2e6ea"/>
<rect x="342.80" y="662.08" width="5.9" height="17.2" fill="#e2e6ea"/>
<text x="390.5" y="676.33" font-size="14.2" fill="#333" font-weight="normal" text-anchor="end" textLength="21.91" lengthAdjust="spacingAndGlyphs" stroke="#333" stroke-width="0.25">371</text>
<rect x="399.20" y="662.08" width="5.9" height="17.2" fill="#1f5593"/>
<rect x="406.35" y="662.08" width="5.9" height="17.2" fill="#1f5593"/>
<rect x="413.50" y="662.08" width="5.9" height="17.2" fill="#1f5593"/>
<rect x="420.65" y="662.08" width="5.9" height="17.2" fill="#e2e6ea"/>
<rect x="427.80" y="662.08" width="5.9" height="17.2" fill="#e2e6ea"/>
<text x="493.5" y="676.33" font-size="14.2" fill="#333" font-weight="normal" text-anchor="end" textLength="25.55" lengthAdjust="spacingAndGlyphs" stroke="#333" stroke-width="0.25">3.30</text>
<rect x="501.00" y="662.08" width="5.9" height="17.2" fill="#1f5593"/>
<rect x="508.15" y="662.08" width="5.9" height="17.2" fill="#1f5593"/>
<rect x="515.30" y="662.08" width="5.9" height="17.2" fill="#1f5593"/>
<rect x="522.45" y="662.08" width="5.9" height="17.2" fill="#1f5593"/>
<rect x="529.60" y="662.08" width="5.9" height="17.2" fill="#1f5593"/>
<text x="591.9" y="676.33" font-size="14.2" fill="#333" font-weight="normal" text-anchor="end" textLength="25.55" lengthAdjust="spacingAndGlyphs" stroke="#333" stroke-width="0.25">78.0</text>
<rect x="599.40" y="662.08" width="5.9" height="17.2" fill="#1f5593"/>
<rect x="606.55" y="662.08" width="5.9" height="17.2" fill="#1f5593"/>
<rect x="613.70" y="662.08" width="5.9" height="17.2" fill="#1f5593"/>
<rect x="620.85" y="662.08" width="5.9" height="17.2" fill="#1f5593"/>
<rect x="628.00" y="662.08" width="5.9" height="17.2" fill="#e2e6ea"/>
<text x="728.2" y="676.33" font-size="14.2" fill="#333" font-weight="normal" text-anchor="end" textLength="25.55" lengthAdjust="spacingAndGlyphs" stroke="#333" stroke-width="0.25">89.2</text>
<rect x="36" y="714.04" width="697" height="1.6" fill="#e2e2e2"/>
<rect x="36" y="714.04" width="38" height="1.6" fill="#c9dcef"/>
<rect x="638" y="714.04" width="95" height="1.6" fill="#c9dcef"/>
<text x="69.5" y="704.41" font-size="14.2" fill="#333" font-weight="normal" text-anchor="end" textLength="14.60" lengthAdjust="spacingAndGlyphs" stroke="#333" stroke-width="0.25">13</text>
<text x="105.6" y="704.41" font-size="14.2" fill="#333" font-weight="normal" text-anchor="end" textLength="14.60" lengthAdjust="spacingAndGlyphs" stroke="#333" stroke-width="0.25">20</text>
<text x="113.3" y="704.56" font-size="13.7" fill="#333" font-weight="normal" text-anchor="start" textLength="34.96" lengthAdjust="spacingAndGlyphs" stroke="#333" stroke-width="0.25">Leeds</text>
<text x="307.2" y="704.41" font-size="14.2" fill="#333" font-weight="normal" text-anchor="end" textLength="18.25" lengthAdjust="spacingAndGlyphs" stroke="#333" stroke-width="0.25">4.4</text>
<rect x="314.20" y="690.16" width="5.9" height="17.2" fill="#1f5593"/>
<rect x="321.35" y="690.16" width="5.9" height="17.2" fill="#1f5593"/>
<rect x="328.50" y="690.16" width="5.9" height="17.2" fill="#1f5593"/>
<rect x="335.65" y="690.16" width="5.9" height="17.2" fill="#1f5593"/>
<rect x="342.80" y="690.16" width="5.9" height="17.2" fill="#1f5593"/>
<text x="390.5" y="704.41" font-size="14.2" fill="#333" font-weight="normal" text-anchor="end" textLength="21.91" lengthAdjust="spacingAndGlyphs" stroke="#333" stroke-width="0.25">406</text>
<rect x="399.20" y="690.16" width="5.9" height="17.2" fill="#1f5593"/>
<rect x="406.35" y="690.16" width="5.9" height="17.2" fill="#1f5593"/>
<rect x="413.50" y="690.16" width="5.9" height="17.2" fill="#1f5593"/>
<rect x="420.65" y="690.16" width="5.9" height="17.2" fill="#1f5593"/>
<rect x="427.80" y="690.16" width="5.9" height="17.2" fill="#e2e6ea"/>
<text x="493.5" y="704.41" font-size="14.2" fill="#333" font-weight="normal" text-anchor="end" textLength="25.55" lengthAdjust="spacingAndGlyphs" stroke="#333" stroke-width="0.25">2.60</text>
<rect x="501.00" y="690.16" width="5.9" height="17.2" fill="#1f5593"/>
<rect x="508.15" y="690.16" width="5.9" height="17.2" fill="#1f5593"/>
<rect x="515.30" y="690.16" width="5.9" height="17.2" fill="#1f5593"/>
<rect x="522.45" y="690.16" width="5.9" height="17.2" fill="#e2e6ea"/>
<rect x="529.60" y="690.16" width="5.9" height="17.2" fill="#e2e6ea"/>
<text x="591.9" y="704.41" font-size="14.2" fill="#333" font-weight="normal" text-anchor="end" textLength="25.55" lengthAdjust="spacingAndGlyphs" stroke="#333" stroke-width="0.25">72.0</text>
<rect x="599.40" y="690.16" width="5.9" height="17.2" fill="#1f5593"/>
<rect x="606.55" y="690.16" width="5.9" height="17.2" fill="#1f5593"/>
<rect x="613.70" y="690.16" width="5.9" height="17.2" fill="#1f5593"/>
<rect x="620.85" y="690.16" width="5.9" height="17.2" fill="#e2e6ea"/>
<rect x="628.00" y="690.16" width="5.9" height="17.2" fill="#e2e6ea"/>
<text x="728.2" y="704.41" font-size="14.2" fill="#333" font-weight="normal" text-anchor="end" textLength="25.55" lengthAdjust="spacingAndGlyphs" stroke="#333" stroke-width="0.25">88.0</text>
<rect x="36" y="742.12" width="697" height="1.6" fill="#e2e2e2"/>
<rect x="36" y="742.12" width="38" height="1.6" fill="#c9dcef"/>
<rect x="638" y="742.12" width="95" height="1.6" fill="#c9dcef"/>
<text x="69.5" y="732.49" font-size="14.2" fill="#333" font-weight="normal" text-anchor="end" textLength="14.60" lengthAdjust="spacingAndGlyphs" stroke="#333" stroke-width="0.25">14</text>
<text x="105.6" y="732.49" font-size="14.2" fill="#333" font-weight="normal" text-anchor="end" textLength="14.60" lengthAdjust="spacingAndGlyphs" stroke="#333" stroke-width="0.25">18</text>
<text x="113.3" y="732.64" font-size="13.7" fill="#333" font-weight="normal" text-anchor="start" textLength="93.75" lengthAdjust="spacingAndGlyphs" stroke="#333" stroke-width="0.25">Queen's, Belfast</text>
<text x="307.2" y="732.49" font-size="14.2" fill="#333" font-weight="normal" text-anchor="end" textLength="18.25" lengthAdjust="spacingAndGlyphs" stroke="#333" stroke-width="0.25">3.7</text>
<rect x="314.20" y="718.24" width="5.9" height="17.2" fill="#1f5593"/>
<rect x="321.35" y="718.24" width="5.9" height="17.2" fill="#1f5593"/>
<rect x="328.50" y="718.24" width="5.9" height="17.2" fill="#e2e6ea"/>
<rect x="335.65" y="718.24" width="5.9" height="17.2" fill="#e2e6ea"/>
<rect x="342.80" y="718.24" width="5.9" height="17.2" fill="#e2e6ea"/>
<text x="390.5" y="732.49" font-size="14.2" fill="#333" font-weight="normal" text-anchor="end" textLength="21.91" lengthAdjust="spacingAndGlyphs" stroke="#333" stroke-width="0.25">380</text>
<rect x="399.20" y="718.24" width="5.9" height="17.2" fill="#1f5593"/>
<rect x="406.35" y="718.24" width="5.9" height="17.2" fill="#1f5593"/>
<rect x="413.50" y="718.24" width="5.9" height="17.2" fill="#1f5593"/>
<rect x="420.65" y="718.24" width="5.9" height="17.2" fill="#e2e6ea"/>
<rect x="427.80" y="718.24" width="5.9" height="17.2" fill="#e2e6ea"/>
<text x="493.5" y="732.49" font-size="14.2" fill="#333" font-weight="normal" text-anchor="end" textLength="25.55" lengthAdjust="spacingAndGlyphs" stroke="#333" stroke-width="0.25">2.95</text>
<rect x="501.00" y="718.24" width="5.9" height="17.2" fill="#1f5593"/>
<rect x="508.15" y="718.24" width="5.9" height="17.2" fill="#1f5593"/>
<rect x="515.30" y="718.24" width="5.9" height="17.2" fill="#1f5593"/>
<rect x="522.45" y="718.24" width="5.9" height="17.2" fill="#1f5593"/>
<rect x="529.60" y="718.24" width="5.9" height="17.2" fill="#e2e6ea"/>
<text x="591.9" y="732.49" font-size="14.2" fill="#333" font-weight="normal" text-anchor="end" textLength="25.55" lengthAdjust="spacingAndGlyphs" stroke="#333" stroke-width="0.25">78.0</text>
<rect x="599.40" y="718.24" width="5.9" height="17.2" fill="#1f5593"/>
<rect x="606.55" y="718.24" width="5.9" height="17.2" fill="#1f5593"/>
<rect x="613.70" y="718.24" width="5.9" height="17.2" fill="#1f5593"/>
<rect x="620.85" y="718.24" width="5.9" height="17.2" fill="#1f5593"/>
<rect x="628.00" y="718.24" width="5.9" height="17.2" fill="#e2e6ea"/>
<text x="728.2" y="732.49" font-size="14.2" fill="#333" font-weight="normal" text-anchor="end" textLength="25.55" lengthAdjust="spacingAndGlyphs" stroke="#333" stroke-width="0.25">87.7</text>
<rect x="36" y="783.90" width="697" height="1.6" fill="#e2e2e2"/>
<rect x="36" y="783.90" width="38" height="1.6" fill="#c9dcef"/>
<rect x="638" y="783.90" width="95" height="1.6" fill="#c9dcef"/>
<text x="69.5" y="768.72" font-size="14.2" fill="#333" font-weight="normal" text-anchor="end" textLength="14.60" lengthAdjust="spacingAndGlyphs" stroke="#333" stroke-width="0.25">15</text>
<text x="105.6" y="768.72" font-size="14.2" fill="#333" font-weight="normal" text-anchor="end" textLength="13.63" lengthAdjust="spacingAndGlyphs" stroke="#333" stroke-width="0.25">11</text>
<text x="113.3" y="761.27" font-size="13.7" fill="#333" font-weight="normal" text-anchor="start" textLength="103.40" lengthAdjust="spacingAndGlyphs" stroke="#333" stroke-width="0.25">University College</text>
<text x="113.3" y="776.47" font-size="13.7" fill="#333" font-weight="normal" text-anchor="start" textLength="42.82" lengthAdjust="spacingAndGlyphs" stroke="#333" stroke-width="0.25">London</text>
<text x="307.2" y="768.72" font-size="14.2" fill="#333" font-weight="normal" text-anchor="end" textLength="18.25" lengthAdjust="spacingAndGlyphs" stroke="#333" stroke-width="0.25">3.8</text>
<rect x="314.20" y="753.77" width="5.9" height="17.2" fill="#1f5593"/>
<rect x="321.35" y="753.77" width="5.9" height="17.2" fill="#1f5593"/>
<rect x="328.50" y="753.77" width="5.9" height="17.2" fill="#e2e6ea"/>
<rect x="335.65" y="753.77" width="5.9" height="17.2" fill="#e2e6ea"/>
<rect x="342.80" y="753.77" width="5.9" height="17.2" fill="#e2e6ea"/>
<text x="390.5" y="768.72" font-size="14.2" fill="#333" font-weight="normal" text-anchor="end" textLength="21.91" lengthAdjust="spacingAndGlyphs" stroke="#333" stroke-width="0.25">519</text>
<rect x="399.20" y="753.77" width="5.9" height="17.2" fill="#1f5593"/>
<rect x="406.35" y="753.77" width="5.9" height="17.2" fill="#1f5593"/>
<rect x="413.50" y="753.77" width="5.9" height="17.2" fill="#1f5593"/>
<rect x="420.65" y="753.77" width="5.9" height="17.2" fill="#1f5593"/>
<rect x="427.80" y="753.77" width="5.9" height="17.2" fill="#1f5593"/>
<text x="493.5" y="768.72" font-size="14.2" fill="#333" font-weight="normal" text-anchor="end" textLength="25.55" lengthAdjust="spacingAndGlyphs" stroke="#333" stroke-width="0.25">2.65</text>
<rect x="501.00" y="753.77" width="5.9" height="17.2" fill="#1f5593"/>
<rect x="508.15" y="753.77" width="5.9" height="17.2" fill="#1f5593"/>
<rect x="515.30" y="753.77" width="5.9" height="17.2" fill="#1f5593"/>
<rect x="522.45" y="753.77" width="5.9" height="17.2" fill="#e2e6ea"/>
<rect x="529.60" y="753.77" width="5.9" height="17.2" fill="#e2e6ea"/>
<text x="591.9" y="768.72" font-size="14.2" fill="#333" font-weight="normal" text-anchor="end" textLength="25.55" lengthAdjust="spacingAndGlyphs" stroke="#333" stroke-width="0.25">66.0</text>
<rect x="599.40" y="753.77" width="5.9" height="17.2" fill="#1f5593"/>
<rect x="606.55" y="753.77" width="5.9" height="17.2" fill="#1f5593"/>
<rect x="613.70" y="753.77" width="5.9" height="17.2" fill="#e2e6ea"/>
<rect x="620.85" y="753.77" width="5.9" height="17.2" fill="#e2e6ea"/>
<rect x="628.00" y="753.77" width="5.9" height="17.2" fill="#e2e6ea"/>
<text x="728.2" y="768.72" font-size="14.2" fill="#333" font-weight="normal" text-anchor="end" textLength="25.55" lengthAdjust="spacingAndGlyphs" stroke="#333" stroke-width="0.25">87.5</text>
<rect x="36" y="812.05" width="697" height="1.6" fill="#e2e2e2"/>
<rect x="36" y="812.05" width="38" height="1.6" fill="#c9dcef"/>
<rect x="638" y="812.05" width="95" height="1.6" fill="#c9dcef"/>
<text x="69.5" y="802.38" font-size="14.2" fill="#333" font-weight="normal" text-anchor="end" textLength="14.60" lengthAdjust="spacingAndGlyphs" stroke="#333" stroke-width="0.25">16</text>
<text x="105.6" y="802.38" font-size="14.2" fill="#333" font-weight="normal" text-anchor="end" textLength="14.60" lengthAdjust="spacingAndGlyphs" stroke="#333" stroke-width="0.25">13</text>
<text x="113.3" y="802.53" font-size="13.7" fill="#333" font-weight="normal" text-anchor="start" textLength="58.50" lengthAdjust="spacingAndGlyphs" stroke="#333" stroke-width="0.25">Edinburgh</text>
<text x="307.2" y="802.38" font-size="14.2" fill="#333" font-weight="normal" text-anchor="end" textLength="18.25" lengthAdjust="spacingAndGlyphs" stroke="#333" stroke-width="0.25">3.6</text>
<rect x="314.20" y="788.13" width="5.9" height="17.2" fill="#1f5593"/>
<rect x="321.35" y="788.13" width="5.9" height="17.2" fill="#e2e6ea"/>
<rect x="328.50" y="788.13" width="5.9" height="17.2" fill="#e2e6ea"/>
<rect x="335.65" y="788.13" width="5.9" height="17.2" fill="#e2e6ea"/>
<rect x="342.80" y="788.13" width="5.9" height="17.2" fill="#e2e6ea"/>
<text x="390.5" y="802.38" font-size="14.2" fill="#333" font-weight="normal" text-anchor="end" textLength="21.91" lengthAdjust="spacingAndGlyphs" stroke="#333" stroke-width="0.25">473</text>
<rect x="399.20" y="788.13" width="5.9" height="17.2" fill="#1f5593"/>
<rect x="406.35" y="788.13" width="5.9" height="17.2" fill="#1f5593"/>
<rect x="413.50" y="788.13" width="5.9" height="17.2" fill="#1f5593"/>
<rect x="420.65" y="788.13" width="5.9" height="17.2" fill="#1f5593"/>
<rect x="427.80" y="788.13" width="5.9" height="17.2" fill="#1f5593"/>
<text x="493.5" y="802.38" font-size="14.2" fill="#333" font-weight="normal" text-anchor="end" textLength="25.55" lengthAdjust="spacingAndGlyphs" stroke="#333" stroke-width="0.25">2.70</text>
<rect x="501.00" y="788.13" width="5.9" height="17.2" fill="#1f5593"/>
<rect x="508.15" y="788.13" width="5.9" height="17.2" fill="#1f5593"/>
<rect x="515.30" y="788.13" width="5.9" height="17.2" fill="#1f5593"/>
<rect x="522.45" y="788.13" width="5.9" height="17.2" fill="#e2e6ea"/>
<rect x="529.60" y="788.13" width="5.9" height="17.2" fill="#e2e6ea"/>
<text x="591.9" y="802.38" font-size="14.2" fill="#333" font-weight="normal" text-anchor="end" textLength="25.55" lengthAdjust="spacingAndGlyphs" stroke="#333" stroke-width="0.25">72.0</text>
<rect x="599.40" y="788.13" width="5.9" height="17.2" fill="#1f5593"/>
<rect x="606.55" y="788.13" width="5.9" height="17.2" fill="#1f5593"/>
<rect x="613.70" y="788.13" width="5.9" height="17.2" fill="#1f5593"/>
<rect x="620.85" y="788.13" width="5.9" height="17.2" fill="#e2e6ea"/>
<rect x="628.00" y="788.13" width="5.9" height="17.2" fill="#e2e6ea"/>
<text x="728.2" y="802.38" font-size="14.2" fill="#333" font-weight="normal" text-anchor="end" textLength="25.55" lengthAdjust="spacingAndGlyphs" stroke="#333" stroke-width="0.25">87.3</text>
<rect x="36" y="840.20" width="697" height="1.6" fill="#e2e2e2"/>
<rect x="36" y="840.20" width="38" height="1.6" fill="#c9dcef"/>
<rect x="638" y="840.20" width="95" height="1.6" fill="#c9dcef"/>
<text x="69.5" y="830.53" font-size="14.2" fill="#333" font-weight="normal" text-anchor="end" textLength="14.60" lengthAdjust="spacingAndGlyphs" stroke="#333" stroke-width="0.25">17</text>
<text x="105.6" y="830.53" font-size="14.2" fill="#333" font-weight="normal" text-anchor="end" textLength="14.60" lengthAdjust="spacingAndGlyphs" stroke="#333" stroke-width="0.25">17</text>
<text x="113.3" y="830.68" font-size="13.7" fill="#333" font-weight="normal" text-anchor="start" textLength="44.95" lengthAdjust="spacingAndGlyphs" stroke="#333" stroke-width="0.25">Dundee</text>
<text x="307.2" y="830.53" font-size="14.2" fill="#333" font-weight="normal" text-anchor="end" textLength="18.25" lengthAdjust="spacingAndGlyphs" stroke="#333" stroke-width="0.25">4.0</text>
<rect x="314.20" y="816.28" width="5.9" height="17.2" fill="#1f5593"/>
<rect x="321.35" y="816.28" width="5.9" height="17.2" fill="#1f5593"/>
<rect x="328.50" y="816.28" width="5.9" height="17.2" fill="#1f5593"/>
<rect x="335.65" y="816.28" width="5.9" height="17.2" fill="#1f5593"/>
<rect x="342.80" y="816.28" width="5.9" height="17.2" fill="#e2e6ea"/>
<text x="390.5" y="830.53" font-size="14.2" fill="#333" font-weight="normal" text-anchor="end" textLength="21.91" lengthAdjust="spacingAndGlyphs" stroke="#333" stroke-width="0.25">383</text>
<rect x="399.20" y="816.28" width="5.9" height="17.2" fill="#1f5593"/>
<rect x="406.35" y="816.28" width="5.9" height="17.2" fill="#1f5593"/>
<rect x="413.50" y="816.28" width="5.9" height="17.2" fill="#1f5593"/>
<rect x="420.65" y="816.28" width="5.9" height="17.2" fill="#e2e6ea"/>
<rect x="427.80" y="816.28" width="5.9" height="17.2" fill="#e2e6ea"/>
<text x="493.5" y="830.53" font-size="14.2" fill="#333" font-weight="normal" text-anchor="end" textLength="25.55" lengthAdjust="spacingAndGlyphs" stroke="#333" stroke-width="0.25">3.00</text>
<rect x="501.00" y="816.28" width="5.9" height="17.2" fill="#1f5593"/>
<rect x="508.15" y="816.28" width="5.9" height="17.2" fill="#1f5593"/>
<rect x="515.30" y="816.28" width="5.9" height="17.2" fill="#1f5593"/>
<rect x="522.45" y="816.28" width="5.9" height="17.2" fill="#1f5593"/>
<rect x="529.60" y="816.28" width="5.9" height="17.2" fill="#e2e6ea"/>
<text x="591.9" y="830.53" font-size="14.2" fill="#333" font-weight="normal" text-anchor="end" textLength="25.55" lengthAdjust="spacingAndGlyphs" stroke="#333" stroke-width="0.25">68.0</text>
<rect x="599.40" y="816.28" width="5.9" height="17.2" fill="#1f5593"/>
<rect x="606.55" y="816.28" width="5.9" height="17.2" fill="#1f5593"/>
<rect x="613.70" y="816.28" width="5.9" height="17.2" fill="#e2e6ea"/>
<rect x="620.85" y="816.28" width="5.9" height="17.2" fill="#e2e6ea"/>
<rect x="628.00" y="816.28" width="5.9" height="17.2" fill="#e2e6ea"/>
<text x="728.2" y="830.53" font-size="14.2" fill="#333" font-weight="normal" text-anchor="end" textLength="25.55" lengthAdjust="spacingAndGlyphs" stroke="#333" stroke-width="0.25">87.0</text>
<rect x="36" y="868.35" width="697" height="1.6" fill="#e2e2e2"/>
<rect x="36" y="868.35" width="38" height="1.6" fill="#c9dcef"/>
<rect x="638" y="868.35" width="95" height="1.6" fill="#c9dcef"/>
<text x="69.5" y="858.69" font-size="14.2" fill="#333" font-weight="normal" text-anchor="end" textLength="14.60" lengthAdjust="spacingAndGlyphs" stroke="#333" stroke-width="0.25">18</text>
<text x="105.6" y="858.69" font-size="14.2" fill="#333" font-weight="normal" text-anchor="end" textLength="14.60" lengthAdjust="spacingAndGlyphs" stroke="#333" stroke-width="0.25">21</text>
<text x="113.3" y="858.84" font-size="13.7" fill="#333" font-weight="normal" text-anchor="start" textLength="67.04" lengthAdjust="spacingAndGlyphs" stroke="#333" stroke-width="0.25">Manchester</text>
<text x="307.2" y="858.69" font-size="14.2" fill="#333" font-weight="normal" text-anchor="end" textLength="18.25" lengthAdjust="spacingAndGlyphs" stroke="#333" stroke-width="0.25">3.6</text>
<rect x="314.20" y="844.44" width="5.9" height="17.2" fill="#1f5593"/>
<rect x="321.35" y="844.44" width="5.9" height="17.2" fill="#e2e6ea"/>
<rect x="328.50" y="844.44" width="5.9" height="17.2" fill="#e2e6ea"/>
<rect x="335.65" y="844.44" width="5.9" height="17.2" fill="#e2e6ea"/>
<rect x="342.80" y="844.44" width="5.9" height="17.2" fill="#e2e6ea"/>
<text x="390.5" y="858.69" font-size="14.2" fill="#333" font-weight="normal" text-anchor="end" textLength="21.91" lengthAdjust="spacingAndGlyphs" stroke="#333" stroke-width="0.25">416</text>
<rect x="399.20" y="844.44" width="5.9" height="17.2" fill="#1f5593"/>
<rect x="406.35" y="844.44" width="5.9" height="17.2" fill="#1f5593"/>
<rect x="413.50" y="844.44" width="5.9" height="17.2" fill="#1f5593"/>
<rect x="420.65" y="844.44" width="5.9" height="17.2" fill="#1f5593"/>
<rect x="427.80" y="844.44" width="5.9" height="17.2" fill="#e2e6ea"/>
<text x="493.5" y="858.69" font-size="14.2" fill="#333" font-weight="normal" text-anchor="end" textLength="25.55" lengthAdjust="spacingAndGlyphs" stroke="#333" stroke-width="0.25">2.90</text>
<rect x="501.00" y="844.44" width="5.9" height="17.2" fill="#1f5593"/>
<rect x="508.15" y="844.44" width="5.9" height="17.2" fill="#1f5593"/>
<rect x="515.30" y="844.44" width="5.9" height="17.2" fill="#1f5593"/>
<rect x="522.45" y="844.44" width="5.9" height="17.2" fill="#1f5593"/>
<rect x="529.60" y="844.44" width="5.9" height="17.2" fill="#e2e6ea"/>
<text x="591.9" y="858.69" font-size="14.2" fill="#333" font-weight="normal" text-anchor="end" textLength="25.55" lengthAdjust="spacingAndGlyphs" stroke="#333" stroke-width="0.25">72.0</text>
<rect x="599.40" y="844.44" width="5.9" height="17.2" fill="#1f5593"/>
<rect x="606.55" y="844.44" width="5.9" height="17.2" fill="#1f5593"/>
<rect x="613.70" y="844.44" width="5.9" height="17.2" fill="#1f5593"/>
<rect x="620.85" y="844.44" width="5.9" height="17.2" fill="#e2e6ea"/>
<rect x="628.00" y="844.44" width="5.9" height="17.2" fill="#e2e6ea"/>
<text x="728.2" y="858.69" font-size="14.2" fill="#333" font-weight="normal" text-anchor="end" textLength="25.55" lengthAdjust="spacingAndGlyphs" stroke="#333" stroke-width="0.25">86.7</text>
<rect x="36" y="896.50" width="697" height="1.6" fill="#e2e2e2"/>
<rect x="36" y="896.50" width="38" height="1.6" fill="#c9dcef"/>
<rect x="638" y="896.50" width="95" height="1.6" fill="#c9dcef"/>
<text x="69.5" y="886.84" font-size="14.2" fill="#333" font-weight="normal" text-anchor="end" textLength="14.60" lengthAdjust="spacingAndGlyphs" stroke="#333" stroke-width="0.25">19</text>
<text x="105.6" y="886.84" font-size="14.2" fill="#333" font-weight="normal" text-anchor="end" textLength="14.60" lengthAdjust="spacingAndGlyphs" stroke="#333" stroke-width="0.25">25</text>
<text x="113.3" y="886.99" font-size="13.7" fill="#333" font-weight="normal" text-anchor="start" textLength="49.92" lengthAdjust="spacingAndGlyphs" stroke="#333" stroke-width="0.25">Glasgow</text>
<text x="307.2" y="886.84" font-size="14.2" fill="#333" font-weight="normal" text-anchor="end" textLength="18.25" lengthAdjust="spacingAndGlyphs" stroke="#333" stroke-width="0.25">3.6</text>
<rect x="314.20" y="872.59" width="5.9" height="17.2" fill="#1f5593"/>
<rect x="321.35" y="872.59" width="5.9" height="17.2" fill="#e2e6ea"/>
<rect x="328.50" y="872.59" width="5.9" height="17.2" fill="#e2e6ea"/>
<rect x="335.65" y="872.59" width="5.9" height="17.2" fill="#e2e6ea"/>
<rect x="342.80" y="872.59" width="5.9" height="17.2" fill="#e2e6ea"/>
<text x="390.5" y="886.84" font-size="14.2" fill="#333" font-weight="normal" text-anchor="end" textLength="21.91" lengthAdjust="spacingAndGlyphs" stroke="#333" stroke-width="0.25">457</text>
<rect x="399.20" y="872.59" width="5.9" height="17.2" fill="#1f5593"/>
<rect x="406.35" y="872.59" width="5.9" height="17.2" fill="#1f5593"/>
<rect x="413.50" y="872.59" width="5.9" height="17.2" fill="#1f5593"/>
<rect x="420.65" y="872.59" width="5.9" height="17.2" fill="#1f5593"/>
<rect x="427.80" y="872.59" width="5.9" height="17.2" fill="#e2e6ea"/>
<text x="493.5" y="886.84" font-size="14.2" fill="#333" font-weight="normal" text-anchor="end" textLength="25.55" lengthAdjust="spacingAndGlyphs" stroke="#333" stroke-width="0.25">2.40</text>
<rect x="501.00" y="872.59" width="5.9" height="17.2" fill="#1f5593"/>
<rect x="508.15" y="872.59" width="5.9" height="17.2" fill="#1f5593"/>
<rect x="515.30" y="872.59" width="5.9" height="17.2" fill="#e2e6ea"/>
<rect x="522.45" y="872.59" width="5.9" height="17.2" fill="#e2e6ea"/>
<rect x="529.60" y="872.59" width="5.9" height="17.2" fill="#e2e6ea"/>
<text x="591.9" y="886.84" font-size="14.2" fill="#333" font-weight="normal" text-anchor="end" textLength="25.55" lengthAdjust="spacingAndGlyphs" stroke="#333" stroke-width="0.25">76.0</text>
<rect x="599.40" y="872.59" width="5.9" height="17.2" fill="#1f5593"/>
<rect x="606.55" y="872.59" width="5.9" height="17.2" fill="#1f5593"/>
<rect x="613.70" y="872.59" width="5.9" height="17.2" fill="#1f5593"/>
<rect x="620.85" y="872.59" width="5.9" height="17.2" fill="#1f5593"/>
<rect x="628.00" y="872.59" width="5.9" height="17.2" fill="#e2e6ea"/>
<text x="728.2" y="886.84" font-size="14.2" fill="#333" font-weight="normal" text-anchor="end" textLength="25.55" lengthAdjust="spacingAndGlyphs" stroke="#333" stroke-width="0.25">86.7</text>
<rect x="36" y="924.65" width="697" height="1.6" fill="#e2e2e2"/>
<rect x="36" y="924.65" width="38" height="1.6" fill="#c9dcef"/>
<rect x="638" y="924.65" width="95" height="1.6" fill="#c9dcef"/>
<text x="69.5" y="914.98" font-size="14.2" fill="#333" font-weight="normal" text-anchor="end" textLength="14.60" lengthAdjust="spacingAndGlyphs" stroke="#333" stroke-width="0.25">20</text>
<text x="105.6" y="914.98" font-size="14.2" fill="#333" font-weight="normal" text-anchor="end" textLength="14.60" lengthAdjust="spacingAndGlyphs" stroke="#333" stroke-width="0.25">23</text>
<text x="113.3" y="915.13" font-size="13.7" fill="#333" font-weight="normal" text-anchor="start" textLength="64.40" lengthAdjust="spacingAndGlyphs" stroke="#333" stroke-width="0.25">Heriot-Watt</text>
<text x="307.2" y="914.98" font-size="14.2" fill="#333" font-weight="normal" text-anchor="end" textLength="18.25" lengthAdjust="spacingAndGlyphs" stroke="#333" stroke-width="0.25">4.2</text>
<rect x="314.20" y="900.74" width="5.9" height="17.2" fill="#1f5593"/>
<rect x="321.35" y="900.74" width="5.9" height="17.2" fill="#1f5593"/>
<rect x="328.50" y="900.74" width="5.9" height="17.2" fill="#1f5593"/>
<rect x="335.65" y="900.74" width="5.9" height="17.2" fill="#1f5593"/>
<rect x="342.80" y="900.74" width="5.9" height="17.2" fill="#1f5593"/>
<text x="390.5" y="914.98" font-size="14.2" fill="#333" font-weight="normal" text-anchor="end" textLength="21.91" lengthAdjust="spacingAndGlyphs" stroke="#333" stroke-width="0.25">414</text>
<rect x="399.20" y="900.74" width="5.9" height="17.2" fill="#1f5593"/>
<rect x="406.35" y="900.74" width="5.9" height="17.2" fill="#1f5593"/>
<rect x="413.50" y="900.74" width="5.9" height="17.2" fill="#1f5593"/>
<rect x="420.65" y="900.74" width="5.9" height="17.2" fill="#1f5593"/>
<rect x="427.80" y="900.74" width="5.9" height="17.2" fill="#e2e6ea"/>
<text x="493.5" y="914.98" font-size="14.2" fill="#333" font-weight="normal" text-anchor="end" textLength="25.55" lengthAdjust="spacingAndGlyphs" stroke="#333" stroke-width="0.25">2.50</text>
<rect x="501.00" y="900.74" width="5.9" height="17.2" fill="#1f5593"/>
<rect x="508.15" y="900.74" width="5.9" height="17.2" fill="#1f5593"/>
<rect x="515.30" y="900.74" width="5.9" height="17.2" fill="#e2e6ea"/>
<rect x="522.45" y="900.74" width="5.9" height="17.2" fill="#e2e6ea"/>
<rect x="529.60" y="900.74" width="5.9" height="17.2" fill="#e2e6ea"/>
<text x="591.9" y="914.98" font-size="14.2" fill="#333" font-weight="normal" text-anchor="end" textLength="25.55" lengthAdjust="spacingAndGlyphs" stroke="#333" stroke-width="0.25">66.0</text>
<rect x="599.40" y="900.74" width="5.9" height="17.2" fill="#1f5593"/>
<rect x="606.55" y="900.74" width="5.9" height="17.2" fill="#1f5593"/>
<rect x="613.70" y="900.74" width="5.9" height="17.2" fill="#e2e6ea"/>
<rect x="620.85" y="900.74" width="5.9" height="17.2" fill="#e2e6ea"/>
<rect x="628.00" y="900.74" width="5.9" height="17.2" fill="#e2e6ea"/>
<text x="728.2" y="914.98" font-size="14.2" fill="#333" font-weight="normal" text-anchor="end" textLength="25.55" lengthAdjust="spacingAndGlyphs" stroke="#333" stroke-width="0.25">86.1</text>
<rect x="36" y="952.80" width="697" height="1.6" fill="#e2e2e2"/>
<rect x="36" y="952.80" width="38" height="1.6" fill="#c9dcef"/>
<rect x="638" y="952.80" width="95" height="1.6" fill="#c9dcef"/>
<text x="69.5" y="943.13" font-size="14.2" fill="#333" font-weight="normal" text-anchor="end" textLength="14.60" lengthAdjust="spacingAndGlyphs" stroke="#333" stroke-width="0.25">21</text>
<text x="105.6" y="943.13" font-size="14.2" fill="#333" font-weight="normal" text-anchor="end" textLength="14.60" lengthAdjust="spacingAndGlyphs" stroke="#333" stroke-width="0.25">16</text>
<text x="113.3" y="943.28" font-size="13.7" fill="#333" font-weight="normal" text-anchor="start" textLength="55.65" lengthAdjust="spacingAndGlyphs" stroke="#333" stroke-width="0.25">Aberdeen</text>
<text x="307.2" y="943.13" font-size="14.2" fill="#333" font-weight="normal" text-anchor="end" textLength="18.25" lengthAdjust="spacingAndGlyphs" stroke="#333" stroke-width="0.25">3.6</text>
<rect x="314.20" y="928.88" width="5.9" height="17.2" fill="#1f5593"/>
<rect x="321.35" y="928.88" width="5.9" height="17.2" fill="#e2e6ea"/>
<rect x="328.50" y="928.88" width="5.9" height="17.2" fill="#e2e6ea"/>
<rect x="335.65" y="928.88" width="5.9" height="17.2" fill="#e2e6ea"/>
<rect x="342.80" y="928.88" width="5.9" height="17.2" fill="#e2e6ea"/>
<text x="390.5" y="943.13" font-size="14.2" fill="#333" font-weight="normal" text-anchor="end" textLength="21.91" lengthAdjust="spacingAndGlyphs" stroke="#333" stroke-width="0.25">363</text>
<rect x="399.20" y="928.88" width="5.9" height="17.2" fill="#1f5593"/>
<rect x="406.35" y="928.88" width="5.9" height="17.2" fill="#1f5593"/>
<rect x="413.50" y="928.88" width="5.9" height="17.2" fill="#1f5593"/>
<rect x="420.65" y="928.88" width="5.9" height="17.2" fill="#e2e6ea"/>
<rect x="427.80" y="928.88" width="5.9" height="17.2" fill="#e2e6ea"/>
<text x="493.5" y="943.13" font-size="14.2" fill="#333" font-weight="normal" text-anchor="end" textLength="25.55" lengthAdjust="spacingAndGlyphs" stroke="#333" stroke-width="0.25">2.60</text>
<rect x="501.00" y="928.88" width="5.9" height="17.2" fill="#1f5593"/>
<rect x="508.15" y="928.88" width="5.9" height="17.2" fill="#1f5593"/>
<rect x="515.30" y="928.88" width="5.9" height="17.2" fill="#1f5593"/>
<rect x="522.45" y="928.88" width="5.9" height="17.2" fill="#e2e6ea"/>
<rect x="529.60" y="928.88" width="5.9" height="17.2" fill="#e2e6ea"/>
<text x="591.9" y="943.13" font-size="14.2" fill="#333" font-weight="normal" text-anchor="end" textLength="25.55" lengthAdjust="spacingAndGlyphs" stroke="#333" stroke-width="0.25">78.0</text>
<rect x="599.40" y="928.88" width="5.9" height="17.2" fill="#1f5593"/>
<rect x="606.55" y="928.88" width="5.9" height="17.2" fill="#1f5593"/>
<rect x="613.70" y="928.88" width="5.9" height="17.2" fill="#1f5593"/>
<rect x="620.85" y="928.88" width="5.9" height="17.2" fill="#1f5593"/>
<rect x="628.00" y="928.88" width="5.9" height="17.2" fill="#e2e6ea"/>
<text x="728.2" y="943.13" font-size="14.2" fill="#333" font-weight="normal" text-anchor="end" textLength="25.55" lengthAdjust="spacingAndGlyphs" stroke="#333" stroke-width="0.25">85.6</text>
<rect x="35" y="512.5" width="542.5" height="33.299999999999955" fill="#fff"/>
<rect x="36" y="545.7" width="541.5" height="1.4" fill="#c9c9c9"/>
<rect x="577.5" y="545.50" width="60.5" height="1.6" fill="#c9dcef"/>
<rect x="45.6" y="516.2" width="298.9" height="25.6" rx="5" ry="5" fill="#fff" stroke="#2f62a0" stroke-width="2"/>
<path d="M362.5,534.5 C360,529 361.5,522 368.5,520.8 C372,520.3 374.5,521 375.8,522.6 L362.8,534.5" stroke="#c4202b" stroke-width="2.2" fill="none" stroke-linejoin="round"/>
<path d="M369.2,528.8 L374.5,534 C376.2,535.4 378.3,534.3 378.3,531" stroke="#c4202b" stroke-width="2.2" fill="none" stroke-linecap="round"/>
<text transform="translate(382.00,534.99) scale(0.746,1)" font-size="16.54" font-weight="bold" fill="#c4202b" stroke="#c4202b" stroke-width="0.82" stroke-linejoin="miter">A</text>
<text transform="translate(391.23,535.08) scale(0.807,1)" font-size="16.79" font-weight="bold" fill="#c4202b" stroke="#c4202b" stroke-width="0.65" stroke-linejoin="miter">V</text>
<text transform="translate(401.00,535.40) scale(1.096,1)" font-size="17.73" font-weight="bold" fill="#c4202b">I</text>
<text transform="translate(407.13,534.97) scale(0.730,1)" font-size="16.47" font-weight="bold" fill="#c4202b" stroke="#c4202b" stroke-width="0.87" stroke-linejoin="miter">R</text>
<text transform="translate(416.90,535.14) scale(0.850,1)" font-size="16.97" font-weight="bold" fill="#c4202b" stroke="#c4202b" stroke-width="0.52" stroke-linejoin="miter">A</text>
<rect x="447.5" y="515.5" width="1" height="27.3" fill="#9a9a9a"/>
</svg></div>
</body></html>
